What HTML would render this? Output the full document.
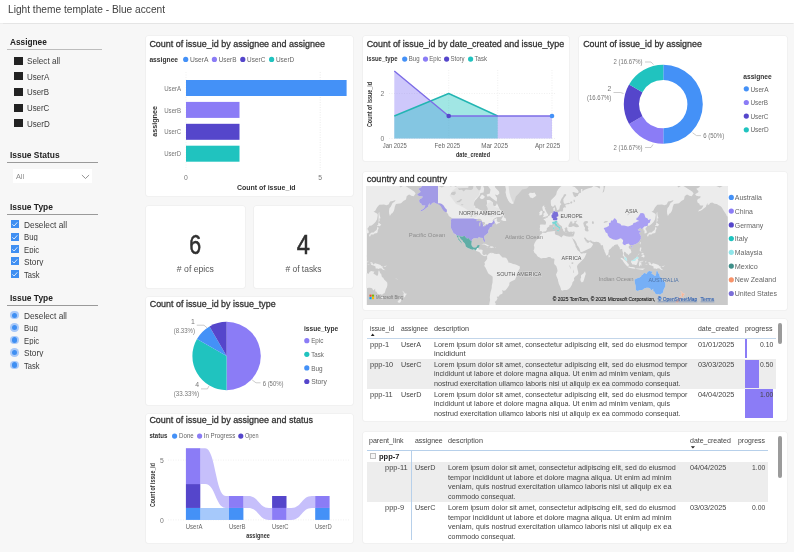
<!DOCTYPE html>
<html><head><meta charset="utf-8"><title>Light theme template - Blue accent</title>
<style>
html,body{margin:0;padding:0}
body{width:794px;height:552px;overflow:hidden;background:#f7f7f7;font-family:"Liberation Sans",sans-serif;position:relative}
.t{position:absolute;white-space:nowrap;transform-origin:0 0;display:block}
.card{position:absolute;background:#fff;border-radius:2px;box-shadow:0 0 0 0.6px #ececec}
.abs{position:absolute}
svg{position:absolute;left:0;top:0;overflow:visible}
svg text{font-family:"Liberation Sans",sans-serif}
#root{position:absolute;left:0;top:0;width:794px;height:552px;will-change:transform}
</style></head><body><div id="root">

<div class="abs" style="left:0;top:0;width:794px;height:23.4px;background:#fff;box-shadow:0 0.5px 1px rgba(0,0,0,0.07)"></div>
<span class="t " style="left:8.00px;top:3.30px;font-size:10.5px;line-height:12.06px;color:#404040;transform:scaleX(0.9676);">Light theme template - Blue accent</span>
<div class="card" id="bar" style="left:146px;top:36px;width:207px;height:160px"></div>
<div class="card" id="area" style="left:363px;top:36px;width:206px;height:125px"></div>
<div class="card" id="donut" style="left:579px;top:36px;width:207.5px;height:125px"></div>
<div class="card" id="map" style="left:363px;top:172px;width:423.5px;height:137.5px"></div>
<div class="card" id="k1" style="left:146px;top:206px;width:98.5px;height:81.5px"></div>
<div class="card" id="k2" style="left:254.3px;top:206px;width:98.5px;height:81.5px"></div>
<div class="card" id="pie" style="left:146px;top:297px;width:207px;height:107.5px"></div>
<div class="card" id="rib" style="left:146px;top:413.5px;width:207px;height:129px"></div>
<div class="card" id="t1" style="left:363px;top:319px;width:423.5px;height:102px"></div>
<div class="card" id="t2" style="left:363px;top:432px;width:423.5px;height:111px"></div>
<span class="t " style="left:10.00px;top:36.58px;font-size:9.3px;line-height:10.69px;color:#222;font-weight:bold;transform:scaleX(0.8899);">Assignee</span>
<div class="abs" style="left:7.2px;top:48.8px;width:95.0px;height:1px;background:#bdbdbd"></div>
<div class="abs" style="left:14.4px;top:56.5px;width:8.2px;height:8.2px;background:#222"></div>
<span class="t " style="left:27.30px;top:55.97px;font-size:9.2px;line-height:10.57px;color:#3a3a3a;transform:scaleX(0.8893);">Select all</span>
<div class="abs" style="left:14.4px;top:72.2px;width:8.2px;height:8.2px;background:#222"></div>
<span class="t " style="left:27.30px;top:71.67px;font-size:9.2px;line-height:10.57px;color:#3a3a3a;transform:scaleX(0.8724);">UserA</span>
<div class="abs" style="left:14.4px;top:87.9px;width:8.2px;height:8.2px;background:#222"></div>
<span class="t " style="left:27.30px;top:87.37px;font-size:9.2px;line-height:10.57px;color:#3a3a3a;transform:scaleX(0.8607);">UserB</span>
<div class="abs" style="left:14.4px;top:103.6px;width:8.2px;height:8.2px;background:#222"></div>
<span class="t " style="left:27.30px;top:103.07px;font-size:9.2px;line-height:10.57px;color:#3a3a3a;transform:scaleX(0.8554);">UserC</span>
<div class="abs" style="left:14.4px;top:119.3px;width:8.2px;height:8.2px;background:#222"></div>
<span class="t " style="left:27.30px;top:118.77px;font-size:9.2px;line-height:10.57px;color:#3a3a3a;transform:scaleX(0.8746);">UserD</span>
<span class="t " style="left:9.70px;top:149.60px;font-size:9.5px;line-height:10.92px;color:#222;font-weight:bold;transform:scaleX(0.8862);">Issue Status</span>
<div class="abs" style="left:7px;top:161.9px;width:91px;height:1px;background:#9a9a9a"></div>
<div class="abs" style="left:12.7px;top:169.3px;width:79.8px;height:13.8px;background:#fff"></div>
<span class="t " style="left:15.70px;top:173.00px;font-size:7.4px;line-height:8.50px;color:#8a8a8a;transform:scaleX(0.9849);">All</span>
<svg width="794" height="552"><path d="M81.9 175 L85.5 178.5 L89.1 175" fill="none" stroke="#777" stroke-width="0.8"/></svg>
<span class="t " style="left:9.70px;top:202.00px;font-size:9.5px;line-height:10.92px;color:#222;font-weight:bold;transform:scaleX(0.8863);">Issue Type</span>
<div class="abs" style="left:7.2px;top:214.0px;width:90.39999999999999px;height:1px;background:#9a9a9a"></div>
<div class="abs" style="left:0;top:219.20px;width:110px;height:9.2px;overflow:hidden">
<div class="abs" style="left:10.6px;top:1px;width:8.2px;height:8.1px;background:#3f8ff2"></div>
<svg width="110" height="12"><path d="M12.4 5.3 L14.1 7 L17.3 3.3" fill="none" stroke="#fff" stroke-width="0.8"/></svg>
<span class="t " style="left:23.80px;top:0.78px;font-size:9.3px;line-height:10.69px;color:#3a3a3a;transform:scaleX(0.8945);">Deselect all</span>
</div>
<div class="abs" style="left:0;top:231.50px;width:110px;height:9.2px;overflow:hidden">
<div class="abs" style="left:10.6px;top:1px;width:8.2px;height:8.1px;background:#3f8ff2"></div>
<svg width="110" height="12"><path d="M12.4 5.3 L14.1 7 L17.3 3.3" fill="none" stroke="#fff" stroke-width="0.8"/></svg>
<span class="t " style="left:23.80px;top:0.78px;font-size:9.3px;line-height:10.69px;color:#3a3a3a;transform:scaleX(0.8339);">Bug</span>
</div>
<div class="abs" style="left:0;top:244.10px;width:110px;height:9.2px;overflow:hidden">
<div class="abs" style="left:10.6px;top:1px;width:8.2px;height:8.1px;background:#3f8ff2"></div>
<svg width="110" height="12"><path d="M12.4 5.3 L14.1 7 L17.3 3.3" fill="none" stroke="#fff" stroke-width="0.8"/></svg>
<span class="t " style="left:23.80px;top:0.78px;font-size:9.3px;line-height:10.69px;color:#3a3a3a;transform:scaleX(0.8291);">Epic</span>
</div>
<div class="abs" style="left:0;top:256.40px;width:110px;height:9.2px;overflow:hidden">
<div class="abs" style="left:10.6px;top:1px;width:8.2px;height:8.1px;background:#3f8ff2"></div>
<svg width="110" height="12"><path d="M12.4 5.3 L14.1 7 L17.3 3.3" fill="none" stroke="#fff" stroke-width="0.8"/></svg>
<span class="t " style="left:23.80px;top:0.78px;font-size:9.3px;line-height:10.69px;color:#3a3a3a;transform:scaleX(0.8891);">Story</span>
</div>
<div class="abs" style="left:0;top:268.90px;width:110px;height:9.2px;overflow:hidden">
<div class="abs" style="left:10.6px;top:1px;width:8.2px;height:8.1px;background:#3f8ff2"></div>
<svg width="110" height="12"><path d="M12.4 5.3 L14.1 7 L17.3 3.3" fill="none" stroke="#fff" stroke-width="0.8"/></svg>
<span class="t " style="left:23.80px;top:0.78px;font-size:9.3px;line-height:10.69px;color:#3a3a3a;transform:scaleX(0.8106);">Task</span>
</div>
<span class="t " style="left:9.70px;top:293.00px;font-size:9.5px;line-height:10.92px;color:#222;font-weight:bold;transform:scaleX(0.8863);">Issue Type</span>
<div class="abs" style="left:7.2px;top:305.0px;width:90.39999999999999px;height:1px;background:#9a9a9a"></div>
<div class="abs" style="left:0;top:309.40px;width:110px;height:10.6px;overflow:hidden">
<div class="abs" style="left:10.2px;top:1.5px;width:8.6px;height:8.6px;border-radius:50%;background:#a9c9f9"></div>
<div class="abs" style="left:11.9px;top:3.2px;width:5.2px;height:5.2px;border-radius:50%;background:#3f8ff2"></div>
<span class="t " style="left:23.50px;top:1.37px;font-size:9.2px;line-height:10.57px;color:#3a3a3a;transform:scaleX(0.9042);">Deselect all</span>
</div>
<div class="abs" style="left:0;top:321.85px;width:110px;height:10.6px;overflow:hidden">
<div class="abs" style="left:10.2px;top:1.5px;width:8.6px;height:8.6px;border-radius:50%;background:#a9c9f9"></div>
<div class="abs" style="left:11.9px;top:3.2px;width:5.2px;height:5.2px;border-radius:50%;background:#3f8ff2"></div>
<span class="t " style="left:23.50px;top:1.37px;font-size:9.2px;line-height:10.57px;color:#3a3a3a;transform:scaleX(0.8430);">Bug</span>
</div>
<div class="abs" style="left:0;top:334.30px;width:110px;height:10.6px;overflow:hidden">
<div class="abs" style="left:10.2px;top:1.5px;width:8.6px;height:8.6px;border-radius:50%;background:#a9c9f9"></div>
<div class="abs" style="left:11.9px;top:3.2px;width:5.2px;height:5.2px;border-radius:50%;background:#3f8ff2"></div>
<span class="t " style="left:23.50px;top:1.37px;font-size:9.2px;line-height:10.57px;color:#3a3a3a;transform:scaleX(0.8381);">Epic</span>
</div>
<div class="abs" style="left:0;top:346.75px;width:110px;height:10.6px;overflow:hidden">
<div class="abs" style="left:10.2px;top:1.5px;width:8.6px;height:8.6px;border-radius:50%;background:#a9c9f9"></div>
<div class="abs" style="left:11.9px;top:3.2px;width:5.2px;height:5.2px;border-radius:50%;background:#3f8ff2"></div>
<span class="t " style="left:23.50px;top:1.37px;font-size:9.2px;line-height:10.57px;color:#3a3a3a;transform:scaleX(0.8988);">Story</span>
</div>
<div class="abs" style="left:0;top:359.20px;width:110px;height:10.6px;overflow:hidden">
<div class="abs" style="left:10.2px;top:1.5px;width:8.6px;height:8.6px;border-radius:50%;background:#a9c9f9"></div>
<div class="abs" style="left:11.9px;top:3.2px;width:5.2px;height:5.2px;border-radius:50%;background:#3f8ff2"></div>
<span class="t " style="left:23.50px;top:1.37px;font-size:9.2px;line-height:10.57px;color:#3a3a3a;transform:scaleX(0.8194);">Task</span>
</div>
<svg width="794" height="552" viewBox="0 0 794 552"><text x="149.40" y="46.60" font-size="9.2" fill="#333" text-anchor="start" textLength="175.60" lengthAdjust="spacingAndGlyphs" stroke="#333" stroke-width="0.3">Count of issue_id by assignee and assignee</text>
<text x="149.40" y="61.60" font-size="7.6" fill="#333" text-anchor="start" textLength="28.70" lengthAdjust="spacingAndGlyphs" font-weight="bold">assignee</text>
<circle cx="185.7" cy="59.4" r="2.6" fill="#4491f7"/>
<text x="189.90" y="61.70" font-size="7.4" fill="#666" text-anchor="start" textLength="18.70" lengthAdjust="spacingAndGlyphs">UserA</text>
<circle cx="214.4" cy="59.4" r="2.6" fill="#8b7cf6"/>
<text x="218.70" y="61.70" font-size="7.4" fill="#666" text-anchor="start" textLength="17.80" lengthAdjust="spacingAndGlyphs">UserB</text>
<circle cx="242.8" cy="59.4" r="2.6" fill="#5546cb"/>
<text x="247.10" y="61.70" font-size="7.4" fill="#666" text-anchor="start" textLength="18.20" lengthAdjust="spacingAndGlyphs">UserC</text>
<circle cx="271.6" cy="59.4" r="2.6" fill="#20c3bf"/>
<text x="275.90" y="61.70" font-size="7.4" fill="#666" text-anchor="start" textLength="18.40" lengthAdjust="spacingAndGlyphs">UserD</text>
<path d="M320.2 72V170" stroke="#e3e3e3" stroke-width="0.7" stroke-dasharray="1 1.5"/>
<path d="M186 72V170" stroke="#ececec" stroke-width="0.7" stroke-dasharray="1 1.5"/>
<rect x="186" y="80.0" width="160.6" height="16" fill="#4491f7"/>
<text x="181.20" y="90.60" font-size="6.8" fill="#777" text-anchor="end" textLength="17.00" lengthAdjust="spacingAndGlyphs">UserA</text>
<rect x="186" y="101.9" width="53.5" height="16" fill="#8b7cf6"/>
<text x="181.20" y="112.50" font-size="6.8" fill="#777" text-anchor="end" textLength="17.00" lengthAdjust="spacingAndGlyphs">UserB</text>
<rect x="186" y="123.8" width="53.5" height="16" fill="#5546cb"/>
<text x="181.20" y="134.40" font-size="6.8" fill="#777" text-anchor="end" textLength="17.00" lengthAdjust="spacingAndGlyphs">UserC</text>
<rect x="186" y="145.7" width="53.5" height="16" fill="#20c3bf"/>
<text x="181.20" y="156.30" font-size="6.8" fill="#777" text-anchor="end" textLength="17.00" lengthAdjust="spacingAndGlyphs">UserD</text>
<text x="186.00" y="180.20" font-size="6.8" fill="#777" text-anchor="middle">0</text>
<text x="320.20" y="180.20" font-size="6.8" fill="#777" text-anchor="middle">5</text>
<text x="266.30" y="190.00" font-size="7.6" fill="#333" text-anchor="middle" textLength="58.60" lengthAdjust="spacingAndGlyphs" font-weight="bold">Count of issue_id</text>
<g transform="translate(157,121.4) rotate(-90)"><text x="0.00" y="0.00" font-size="7.6" fill="#333" text-anchor="middle" textLength="30.70" lengthAdjust="spacingAndGlyphs" font-weight="bold">assignee</text></g>
<text x="366.70" y="46.60" font-size="9.2" fill="#333" text-anchor="start" textLength="197.50" lengthAdjust="spacingAndGlyphs" stroke="#333" stroke-width="0.3">Count of issue_id by date_created and issue_type</text>
<text x="366.70" y="60.80" font-size="7.4" fill="#333" text-anchor="start" textLength="30.80" lengthAdjust="spacingAndGlyphs" font-weight="bold">issue_type</text>
<circle cx="404.7" cy="59.1" r="2.6" fill="#4491f7"/>
<text x="408.80" y="61.20" font-size="7.2" fill="#666" text-anchor="start" textLength="10.80" lengthAdjust="spacingAndGlyphs">Bug</text>
<circle cx="425.5" cy="59.1" r="2.6" fill="#8b7cf6"/>
<text x="429.30" y="61.20" font-size="7.2" fill="#666" text-anchor="start" textLength="11.80" lengthAdjust="spacingAndGlyphs">Epic</text>
<circle cx="446.6" cy="59.1" r="2.6" fill="#5546cb"/>
<text x="450.50" y="61.20" font-size="7.2" fill="#666" text-anchor="start" textLength="14.10" lengthAdjust="spacingAndGlyphs">Story</text>
<circle cx="470.6" cy="59.1" r="2.6" fill="#20c3bf"/>
<text x="474.60" y="61.20" font-size="7.2" fill="#666" text-anchor="start" textLength="12.40" lengthAdjust="spacingAndGlyphs">Task</text>
<path d="M448.7 70V138.5" stroke="#e9e9e9" stroke-width="0.7" stroke-dasharray="1 1.5"/>
<path d="M497.7 70V138.5" stroke="#e9e9e9" stroke-width="0.7" stroke-dasharray="1 1.5"/>
<path d="M552 70V138.5" stroke="#e9e9e9" stroke-width="0.7" stroke-dasharray="1 1.5"/>
<path d="M389 138.5H555" stroke="#e9e9e9" stroke-width="0.7" stroke-dasharray="1 1.5"/>
<path d="M389 93.5H555" stroke="#e9e9e9" stroke-width="0.7" stroke-dasharray="1 1.5"/>
<path d="M394.3 71.0 L448.7 116.0 L552 116.0 L552 138.5 L394.3 138.5Z" fill="#8b7cf6" fill-opacity="0.42"/>
<path d="M394.3 116.0 L448.7 93.5 L497.7 116.0 L497.7 138.5 L394.3 138.5Z" fill="#20c3bf" fill-opacity="0.42"/>
<path d="M394.3 116.0 L448.7 93.5 L497.7 116.0" fill="none" stroke="#22b5b2" stroke-width="1.4" stroke-linejoin="round"/>
<path d="M394.3 71.0 L448.7 116.0 L552 116.0" fill="none" stroke="#7c6ce6" stroke-width="1.4" stroke-linejoin="round"/>
<circle cx="448.7" cy="116.0" r="2.3" fill="#5546cb"/>
<circle cx="552" cy="116.0" r="2.3" fill="#4491f7"/>
<text x="384.30" y="140.70" font-size="6.8" fill="#777" text-anchor="end">0</text>
<text x="384.30" y="95.80" font-size="6.8" fill="#777" text-anchor="end">2</text>
<text x="394.80" y="148.00" font-size="7.3" fill="#666" text-anchor="middle" textLength="24.20" lengthAdjust="spacingAndGlyphs">Jan 2025</text>
<text x="447.40" y="148.00" font-size="7.3" fill="#666" text-anchor="middle" textLength="25.60" lengthAdjust="spacingAndGlyphs">Feb 2025</text>
<text x="494.60" y="148.00" font-size="7.3" fill="#666" text-anchor="middle" textLength="26.60" lengthAdjust="spacingAndGlyphs">Mar 2025</text>
<text x="547.60" y="148.00" font-size="7.3" fill="#666" text-anchor="middle" textLength="25.40" lengthAdjust="spacingAndGlyphs">Apr 2025</text>
<text x="473.00" y="156.50" font-size="6.6" fill="#333" text-anchor="middle" textLength="34.00" lengthAdjust="spacingAndGlyphs" font-weight="bold">date_created</text>
<g transform="translate(371.5,104.5) rotate(-90)"><text x="0.00" y="0.00" font-size="6.4" fill="#333" text-anchor="middle" textLength="45.00" lengthAdjust="spacingAndGlyphs" font-weight="bold">Count of issue_id</text></g>
<text x="583.20" y="46.50" font-size="9.2" fill="#333" text-anchor="start" textLength="118.70" lengthAdjust="spacingAndGlyphs" stroke="#333" stroke-width="0.3">Count of issue_id by assignee</text>
<path d="M663.30 64.70A39.5 39.5 0 0 1 663.30 143.70L663.30 128.30A24.1 24.1 0 0 0 663.30 80.10Z" fill="#4491f7"/>
<path d="M663.30 143.70A39.5 39.5 0 0 1 629.09 123.95L642.43 116.25A24.1 24.1 0 0 0 663.30 128.30Z" fill="#8b7cf6"/>
<path d="M629.09 123.95A39.5 39.5 0 0 1 629.09 84.45L642.43 92.15A24.1 24.1 0 0 0 642.43 116.25Z" fill="#5546cb"/>
<path d="M629.09 84.45A39.5 39.5 0 0 1 663.30 64.70L663.30 80.10A24.1 24.1 0 0 0 642.43 92.15Z" fill="#20c3bf"/>
<text x="613.50" y="64.40" font-size="6.9" fill="#777" text-anchor="start" textLength="29.10" lengthAdjust="spacingAndGlyphs">2 (16.67%)</text>
<path d="M645 62H651L653.5 64.6" fill="none" stroke="#aaa" stroke-width="0.6"/>
<text x="611.30" y="90.90" font-size="6.9" fill="#777" text-anchor="end">2</text>
<text x="587.00" y="99.60" font-size="6.9" fill="#777" text-anchor="start" textLength="24.30" lengthAdjust="spacingAndGlyphs">(16.67%)</text>
<path d="M613.5 92.5H620.5L623.5 93.5" fill="none" stroke="#aaa" stroke-width="0.6"/>
<text x="613.50" y="149.80" font-size="6.9" fill="#777" text-anchor="start" textLength="29.10" lengthAdjust="spacingAndGlyphs">2 (16.67%)</text>
<path d="M645 147.5H651L653 144.5" fill="none" stroke="#aaa" stroke-width="0.6"/>
<text x="703.20" y="138.30" font-size="6.9" fill="#777" text-anchor="start" textLength="21.00" lengthAdjust="spacingAndGlyphs">6 (50%)</text>
<path d="M692.5 132.7L696.5 135.6H701" fill="none" stroke="#aaa" stroke-width="0.6"/>
<text x="743.30" y="79.00" font-size="7.6" fill="#333" text-anchor="start" textLength="28.40" lengthAdjust="spacingAndGlyphs" font-weight="bold">assignee</text>
<circle cx="746.3" cy="88.8" r="2.6" fill="#4491f7"/>
<text x="750.40" y="91.50" font-size="7.4" fill="#666" text-anchor="start" textLength="18.20" lengthAdjust="spacingAndGlyphs">UserA</text>
<circle cx="746.3" cy="102.5" r="2.6" fill="#8b7cf6"/>
<text x="750.40" y="105.15" font-size="7.4" fill="#666" text-anchor="start" textLength="17.60" lengthAdjust="spacingAndGlyphs">UserB</text>
<circle cx="746.3" cy="116.1" r="2.6" fill="#5546cb"/>
<text x="750.40" y="118.80" font-size="7.4" fill="#666" text-anchor="start" textLength="18.00" lengthAdjust="spacingAndGlyphs">UserC</text>
<circle cx="746.3" cy="129.8" r="2.6" fill="#20c3bf"/>
<text x="750.40" y="132.45" font-size="7.4" fill="#666" text-anchor="start" textLength="18.40" lengthAdjust="spacingAndGlyphs">UserD</text>
<text x="195.20" y="254.00" font-size="28.4" fill="#303030" text-anchor="middle" textLength="11.90" lengthAdjust="spacingAndGlyphs" stroke="#303030" stroke-width="0.55">6</text>
<text x="303.40" y="254.00" font-size="28.4" fill="#303030" text-anchor="middle" textLength="13.20" lengthAdjust="spacingAndGlyphs" stroke="#303030" stroke-width="0.55">4</text>
<text x="195.40" y="272.00" font-size="8.6" fill="#555" text-anchor="middle" textLength="37.10" lengthAdjust="spacingAndGlyphs"># of epics</text>
<text x="303.50" y="272.00" font-size="8.6" fill="#555" text-anchor="middle" textLength="36.00" lengthAdjust="spacingAndGlyphs"># of tasks</text>
<text x="149.70" y="306.60" font-size="9.2" fill="#333" text-anchor="start" textLength="126.00" lengthAdjust="spacingAndGlyphs" stroke="#333" stroke-width="0.3">Count of issue_id by issue_type</text>
<path d="M226.6 356L226.60 321.80A34.2 34.2 0 0 1 226.60 390.20Z" fill="#8b7cf6"/>
<path d="M226.6 356L226.60 390.20A34.2 34.2 0 0 1 196.98 338.90Z" fill="#20c3bf"/>
<path d="M226.6 356L196.98 338.90A34.2 34.2 0 0 1 209.50 326.38Z" fill="#4491f7"/>
<path d="M226.6 356L209.50 326.38A34.2 34.2 0 0 1 226.60 321.80Z" fill="#5546cb"/>
<text x="194.90" y="323.80" font-size="6.9" fill="#777" text-anchor="end">1</text>
<text x="173.80" y="333.00" font-size="6.9" fill="#777" text-anchor="start" textLength="21.10" lengthAdjust="spacingAndGlyphs">(8.33%)</text>
<path d="M196.8 325.2H204L207 327.8" fill="none" stroke="#aaa" stroke-width="0.6"/>
<text x="199.00" y="387.00" font-size="6.9" fill="#777" text-anchor="end">4</text>
<text x="173.80" y="396.10" font-size="6.9" fill="#777" text-anchor="start" textLength="25.20" lengthAdjust="spacingAndGlyphs">(33.33%)</text>
<path d="M201 388.9H207.5L209 385.8" fill="none" stroke="#aaa" stroke-width="0.6"/>
<text x="262.70" y="385.70" font-size="6.9" fill="#777" text-anchor="start" textLength="20.80" lengthAdjust="spacingAndGlyphs">6 (50%)</text>
<path d="M252.2 380L256 382.8H260.5" fill="none" stroke="#aaa" stroke-width="0.6"/>
<text x="304.00" y="331.00" font-size="7.6" fill="#333" text-anchor="start" textLength="34.10" lengthAdjust="spacingAndGlyphs" font-weight="bold">issue_type</text>
<circle cx="306.8" cy="340.7" r="2.6" fill="#8b7cf6"/>
<text x="311.20" y="343.30" font-size="7.4" fill="#666" text-anchor="start" textLength="12.20" lengthAdjust="spacingAndGlyphs">Epic</text>
<circle cx="306.8" cy="354.3" r="2.6" fill="#20c3bf"/>
<text x="311.20" y="356.90" font-size="7.4" fill="#666" text-anchor="start" textLength="12.60" lengthAdjust="spacingAndGlyphs">Task</text>
<circle cx="306.8" cy="367.9" r="2.6" fill="#4491f7"/>
<text x="311.20" y="370.50" font-size="7.4" fill="#666" text-anchor="start" textLength="11.40" lengthAdjust="spacingAndGlyphs">Bug</text>
<circle cx="306.8" cy="381.5" r="2.6" fill="#5546cb"/>
<text x="311.20" y="384.10" font-size="7.4" fill="#666" text-anchor="start" textLength="15.80" lengthAdjust="spacingAndGlyphs">Story</text>
<text x="149.40" y="423.40" font-size="9.2" fill="#333" text-anchor="start" textLength="163.50" lengthAdjust="spacingAndGlyphs" stroke="#333" stroke-width="0.3">Count of issue_id by assignee and status</text>
<text x="149.40" y="438.20" font-size="7" fill="#333" text-anchor="start" textLength="18.00" lengthAdjust="spacingAndGlyphs" font-weight="bold">status</text>
<circle cx="174.6" cy="436.1" r="2.6" fill="#4491f7"/>
<text x="179.10" y="438.40" font-size="7.2" fill="#666" text-anchor="start" textLength="14.60" lengthAdjust="spacingAndGlyphs">Done</text>
<circle cx="199.6" cy="436.1" r="2.6" fill="#8b7cf6"/>
<text x="203.70" y="438.40" font-size="7.2" fill="#666" text-anchor="start" textLength="31.60" lengthAdjust="spacingAndGlyphs">In Progress</text>
<circle cx="240.8" cy="436.1" r="2.6" fill="#5546cb"/>
<text x="245.00" y="438.40" font-size="7.2" fill="#666" text-anchor="start" textLength="13.50" lengthAdjust="spacingAndGlyphs">Open</text>
<path d="M168 519.9H349" stroke="#e9e9e9" stroke-width="0.7" stroke-dasharray="1 1.5"/>
<path d="M168 460.1H349" stroke="#e9e9e9" stroke-width="0.7" stroke-dasharray="1 1.5"/>
<path d="M200.3 507.95L205.2 507.95C215.5 507.95 215.5 507.95 225.8 507.95L229.0 507.95L229.0 519.90L225.8 519.90C215.5 519.90 215.5 519.90 205.2 519.90L200.3 519.90Z" fill="#a6c9fb"/>
<path d="M200.3 448.20L205.2 448.20C215.5 448.20 215.5 496.00 225.8 496.00L229.0 496.00L229.0 507.95L225.8 507.95C215.5 507.95 215.5 484.05 205.2 484.05L200.3 484.05Z" fill="#c6bffb"/>
<path d="M243.4 496.00L248.3 496.00C258.6 496.00 258.6 507.95 268.9 507.95L272.1 507.95L272.1 519.90L268.9 519.90C258.6 519.90 258.6 507.95 248.3 507.95L243.4 507.95Z" fill="#c6bffb"/>
<path d="M286.5 507.95L291.4 507.95C301.7 507.95 301.7 496.00 312.0 496.00L315.2 496.00L315.2 507.95L312.0 507.95C301.7 507.95 301.7 519.90 291.4 519.90L286.5 519.90Z" fill="#c6bffb"/>
<rect x="185.9" y="507.95" width="14.4" height="11.95" fill="#4491f7"/>
<rect x="185.9" y="484.05" width="14.4" height="23.90" fill="#5546cb"/>
<rect x="185.9" y="448.20" width="14.4" height="35.85" fill="#8b7cf6"/>
<rect x="229.0" y="507.95" width="14.4" height="11.95" fill="#4491f7"/>
<rect x="229.0" y="496.00" width="14.4" height="11.95" fill="#8b7cf6"/>
<rect x="272.1" y="507.95" width="14.4" height="11.95" fill="#8b7cf6"/>
<rect x="272.1" y="496.00" width="14.4" height="11.95" fill="#5546cb"/>
<rect x="315.2" y="507.95" width="14.4" height="11.95" fill="#4491f7"/>
<rect x="315.2" y="496.00" width="14.4" height="11.95" fill="#8b7cf6"/>
<text x="163.80" y="522.60" font-size="6.8" fill="#777" text-anchor="end">0</text>
<text x="163.80" y="462.75" font-size="6.8" fill="#777" text-anchor="end">5</text>
<text x="194.10" y="528.90" font-size="6.8" fill="#666" text-anchor="middle" textLength="16.60" lengthAdjust="spacingAndGlyphs">UserA</text>
<text x="237.20" y="528.90" font-size="6.8" fill="#666" text-anchor="middle" textLength="16.60" lengthAdjust="spacingAndGlyphs">UserB</text>
<text x="280.30" y="528.90" font-size="6.8" fill="#666" text-anchor="middle" textLength="16.60" lengthAdjust="spacingAndGlyphs">UserC</text>
<text x="323.40" y="528.90" font-size="6.8" fill="#666" text-anchor="middle" textLength="16.60" lengthAdjust="spacingAndGlyphs">UserD</text>
<text x="258.00" y="538.30" font-size="6.6" fill="#333" text-anchor="middle" textLength="23.50" lengthAdjust="spacingAndGlyphs" font-weight="bold">assignee</text>
<g transform="translate(154.6,485) rotate(-90)"><text x="0.00" y="0.00" font-size="6.4" fill="#333" text-anchor="middle" textLength="44.00" lengthAdjust="spacingAndGlyphs" font-weight="bold">Count of issue_id</text></g>
<text x="366.70" y="181.60" font-size="9.2" fill="#333" text-anchor="start" textLength="80.50" lengthAdjust="spacingAndGlyphs" stroke="#333" stroke-width="0.3">country and country</text>
<clipPath id="mc"><rect x="366.8" y="186" width="360.99999999999994" height="119"/></clipPath>
<g clip-path="url(#mc)"><rect x="366.8" y="186" width="360.99999999999994" height="119" fill="#c9c9c9"/>
<path d="M139.1 194.2L142.3 192.3L142.5 191.3L140.3 188.7L143.0 187.4L146.1 183.4L148.0 182.2L151.5 183.4L154.6 184.5L160.0 185.9L163.9 187.6L166.2 186.3L170.1 184.8L172.4 186.6L175.5 185.7L180.1 187.9L180.9 189.9L184.0 189.7L185.5 191.5L187.8 189.5L193.2 189.9L194.8 188.9L196.3 181.7L197.9 186.3L199.0 188.5L200.9 190.5L202.5 189.5L202.9 186.3L205.2 185.9L206.1 188.5L205.6 192.5L202.5 192.9L201.7 195.3L200.2 197.1L198.6 198.9L197.1 200.5L195.9 203.0L195.8 205.6L197.1 205.7L197.5 208.2L199.4 208.2L200.9 209.3L203.3 210.5L205.3 210.8L205.6 213.6L206.0 214.6L206.7 215.7L207.9 215.5L208.0 213.6L207.9 211.6L209.4 210.3L209.8 208.9L209.1 206.7L208.3 205.6L209.1 203.7L208.7 200.0L211.0 200.0L212.5 200.5L214.8 202.2L215.2 205.3L216.4 206.3L217.9 205.6L218.9 203.3L220.6 206.7L221.8 209.6L224.1 211.6L225.7 213.6L225.9 214.8L224.9 215.6L222.6 217.0L219.5 216.9L217.2 218.0L215.2 219.6L214.1 221.0L215.6 219.9L218.7 218.2L219.2 219.1L218.7 219.9L218.9 221.0L219.9 221.9L221.4 222.2L222.6 221.3L221.8 222.7L219.9 223.5L218.2 224.6L217.8 223.7L217.2 223.0L215.6 224.1L214.5 224.8L214.3 226.2L214.8 226.5L213.7 226.8L211.8 227.6L211.6 228.7L210.6 229.7L210.2 231.2L210.4 232.6L209.4 233.6L207.9 234.7L206.3 236.1L206.1 237.7L206.9 239.9L207.0 241.4L206.3 242.0L205.7 241.2L205.0 239.6L205.0 238.6L204.0 237.7L202.9 238.0L201.7 237.3L200.2 237.4L199.9 238.4L198.6 238.3L196.7 238.0L195.5 238.4L194.0 239.6L193.8 241.2L193.5 242.9L193.4 244.3L193.8 245.8L194.8 247.1L195.8 247.6L197.5 247.4L198.6 247.1L199.0 245.6L200.6 245.0L201.7 245.1L201.3 246.6L200.9 247.6L200.4 249.1L200.8 249.6L202.5 249.6L204.0 249.7L204.7 250.3L204.4 252.3L204.3 253.5L205.2 254.8L206.3 255.2L207.4 254.6L208.7 254.8L209.2 255.4L209.1 255.8L208.3 255.6L207.1 256.3L206.0 256.0L204.8 255.6L203.3 254.4L202.6 253.5L201.3 251.9L199.8 251.5L198.2 251.1L197.1 249.9L195.9 249.3L194.4 249.7L192.4 249.0L190.5 248.3L189.0 247.5L187.6 246.2L187.4 244.7L186.7 243.3L185.1 241.8L184.3 240.3L183.2 239.5L182.0 238.1L181.5 236.6L180.3 236.2L180.5 237.7L181.6 239.5L182.8 241.2L183.6 242.6L184.1 243.7L183.6 243.3L182.4 242.1L181.3 240.5L180.1 239.5L180.5 238.8L179.3 237.2L178.5 235.4L177.4 234.1L175.8 233.6L174.8 231.7L174.3 230.4L173.3 228.7L172.9 227.2L172.8 225.2L173.1 221.7L172.6 219.2L173.9 219.3L174.3 218.5L172.8 217.3L170.8 216.1L170.1 214.2L168.5 211.9L167.4 210.3L165.8 207.5L164.3 206.0L162.7 205.3L160.8 204.0L158.5 203.7L156.2 202.5L154.2 203.0L153.1 204.5L151.5 205.3L151.9 203.0L150.4 205.0L150.0 206.7L148.0 208.2L146.5 209.6L144.6 210.7L142.6 211.2L141.9 211.6L143.4 209.8L145.3 208.9L146.9 206.7L147.3 205.6L145.3 205.6L143.8 205.3L143.4 203.7L141.5 202.5L141.1 200.5L141.9 198.9L144.2 198.0L144.6 196.3L142.6 196.3L140.3 195.7ZM218.7 201.4L216.4 200.0L213.7 198.0L211.8 196.3L209.1 196.6L208.7 194.4L211.8 193.5L212.5 189.5L209.4 185.2L213.3 181.7L216.4 184.5L217.2 187.4L221.0 191.5L221.4 193.5L219.5 195.3L216.8 194.4L219.1 198.0L218.7 201.4ZM178.5 187.4L181.6 188.3L185.5 188.1L190.1 187.9L190.9 185.2L187.8 179.2L182.4 177.9L177.8 180.5L178.5 187.4ZM201.7 198.0L204.0 199.2L206.3 198.0L206.7 196.3L204.0 194.4L202.5 196.3ZM223.1 220.0L225.7 221.0L228.0 221.1L228.2 220.1L227.6 218.2L225.8 217.3L226.0 215.3L224.7 216.7L223.7 218.7ZM203.3 244.7L205.2 243.7L207.1 243.7L209.4 244.8L211.6 246.1L209.1 246.3L208.7 245.7L206.3 244.6L204.4 244.4ZM211.4 247.5L212.5 246.3L214.8 246.4L216.1 247.4L214.5 247.7L213.5 248.1L212.1 247.6ZM208.4 247.5L210.0 247.8L209.2 248.0ZM217.0 247.5L218.2 247.6L217.5 247.9ZM250.4 194.4L251.9 192.7L255.0 193.1L256.5 192.5L257.7 194.4L258.4 195.3L257.3 196.6L254.6 198.2L251.9 197.3L251.5 195.7ZM209.2 255.4L210.2 254.6L210.6 253.7L211.8 253.3L213.3 252.5L213.7 253.5L214.8 252.7L216.4 253.8L218.7 254.1L221.0 253.7L221.8 254.6L222.6 255.6L224.5 257.4L227.2 257.5L228.7 258.5L229.5 260.1L230.3 261.6L230.3 262.4L231.8 262.8L234.1 263.4L234.9 263.9L236.9 264.2L238.8 264.9L240.3 265.7L241.7 266.3L241.9 268.2L240.7 270.2L239.6 272.1L238.8 273.7L238.6 276.1L237.6 278.2L237.2 279.4L235.7 280.3L234.1 280.9L232.6 281.7L231.4 282.8L231.3 285.0L229.9 287.2L228.4 289.2L227.2 290.6L225.3 290.7L223.9 289.9L224.7 292.0L224.3 293.8L221.8 294.8L220.8 296.6L218.7 296.8L219.5 298.5L218.5 300.5L216.8 302.1L217.9 304.1L216.4 306.7L215.6 309.2L216.0 310.4L214.8 310.4L211.0 306.7L211.4 303.2L212.1 299.9L211.8 297.3L212.1 294.8L212.4 292.8L212.9 290.9L213.7 288.1L213.8 285.4L214.5 282.8L214.6 280.3L214.7 277.8L214.5 276.4L212.9 275.3L210.6 273.7L209.8 272.5L209.1 270.9L207.9 268.6L207.1 267.0L206.2 265.9L206.7 264.7L207.1 263.9L206.3 262.8L207.1 261.6L207.9 260.8L208.3 260.1L209.2 258.9L209.1 257.4L209.1 256.2ZM264.4 232.4L267.4 232.9L269.7 231.7L272.8 231.4L276.2 230.9L277.4 231.4L276.8 232.6L277.0 234.1L277.8 234.8L280.5 235.6L283.6 237.4L284.3 236.3L285.5 235.2L288.2 236.2L291.3 236.8L293.6 236.5L294.0 237.7L294.8 239.5L295.9 242.1L296.5 243.3L297.5 245.4L297.7 247.1L298.6 248.3L299.4 249.9L300.6 251.1L302.1 252.3L302.3 253.1L303.6 253.8L305.2 253.3L306.7 253.2L308.4 252.8L308.3 253.8L307.1 256.6L306.0 258.5L304.4 260.1L302.5 262.0L300.9 263.4L299.8 264.7L299.0 266.3L299.2 267.8L299.6 269.8L300.2 271.7L300.3 273.7L299.0 275.3L297.3 276.5L295.9 278.2L296.3 280.3L294.4 282.4L294.2 284.1L293.2 285.9L292.1 287.7L290.1 289.5L288.6 289.9L285.9 290.1L284.3 290.7L283.1 290.1L282.8 288.6L282.0 286.3L280.9 284.1L280.1 281.1L279.9 279.4L278.6 276.5L278.0 274.5L279.3 271.7L279.5 270.2L278.6 267.0L278.2 265.9L276.2 263.9L276.1 262.0L276.4 260.5L276.4 259.1L275.5 258.4L274.3 258.6L273.1 258.1L272.4 257.1L270.4 257.1L268.1 258.0L266.6 258.1L265.0 258.1L263.1 258.6L261.6 257.5L260.0 256.7L258.9 255.4L258.5 254.4L257.3 253.5L256.0 252.3L255.9 251.1L255.4 250.5L256.2 249.3L256.4 247.1L255.8 245.4L256.5 243.3L257.7 241.2L258.9 239.6L260.0 239.0L261.2 238.1L261.4 236.8L262.3 234.7L263.6 233.9ZM307.0 271.3L307.8 274.1L307.1 275.7L306.4 278.2L305.4 281.5L303.8 282.4L302.6 281.1L302.4 279.0L303.1 277.4L302.9 275.6L304.0 274.5L305.2 273.7L306.2 272.5ZM261.6 231.2L262.1 229.7L261.6 228.9L262.1 226.7L261.8 224.9L262.7 224.4L265.0 224.6L267.4 224.7L267.9 223.5L268.0 221.9L267.0 220.4L265.3 219.2L266.6 218.7L267.7 218.8L267.5 217.6L269.1 217.9L270.1 216.3L271.6 215.6L272.4 214.2L272.8 213.2L274.3 212.8L275.6 212.4L275.5 210.3L275.2 208.2L277.0 207.2L276.9 208.9L276.6 210.9L277.4 212.0L278.6 211.7L279.7 212.3L281.6 211.6L283.2 211.2L284.2 211.7L285.1 210.3L285.1 208.2L286.3 207.2L287.7 207.7L287.7 206.0L287.0 205.0L289.0 204.3L290.5 204.2L292.1 203.7L290.9 202.8L289.0 203.3L286.7 203.9L285.5 202.2L285.3 199.2L286.7 197.1L288.4 195.0L287.4 193.9L285.9 194.4L285.3 196.3L283.6 198.5L282.3 201.4L282.2 203.0L283.4 204.0L282.0 205.7L281.6 207.7L281.3 209.3L279.9 210.1L278.9 210.4L278.8 208.9L278.0 207.0L277.4 205.3L276.9 204.8L275.9 206.3L274.5 206.7L273.1 205.6L272.8 203.0L272.8 200.5L273.9 199.2L275.5 197.8L277.0 196.3L278.2 194.4L278.9 191.5L280.1 189.5L281.3 187.9L284.3 185.2L288.2 182.9L290.5 182.9L292.8 184.5L294.4 186.3L296.7 187.0L299.8 189.9L300.8 191.9L299.8 193.1L297.5 192.7L295.5 192.1L294.4 192.5L295.5 195.3L295.9 196.6L297.9 197.3L298.2 196.3L299.8 195.9L300.2 194.4L301.7 192.7L302.9 193.1L303.0 188.9L304.4 189.1L304.4 191.5L306.0 190.1L309.8 188.5L313.7 187.6L315.6 185.9L319.1 187.0L321.4 188.5L322.2 187.9L320.6 182.9L321.4 177.9L325.1 178.4L325.3 182.9L325.7 188.5L324.5 192.9L326.0 191.5L326.8 187.4L329.1 180.5L331.1 176.6L336.1 175.2L338.4 170.8L346.1 167.6L349.2 163.4L351.5 165.9L355.4 169.2L356.5 175.2L360.0 176.6L364.7 176.0L367.7 180.5L369.3 182.9L373.1 181.7L377.0 179.2L380.9 179.7L384.7 181.7L388.6 182.9L392.5 185.2L394.8 185.9L398.6 185.2L400.6 187.4L404.0 185.2L407.9 187.4L410.2 188.9L414.1 191.5L415.6 193.5L413.7 196.3L411.4 195.7L409.1 194.4L407.9 195.3L406.7 196.3L406.0 199.5L403.3 200.9L401.0 203.3L397.9 203.7L395.9 204.0L394.8 206.7L394.4 208.9L393.8 210.9L392.5 212.9L391.3 213.8L389.9 216.1L389.1 213.6L389.0 210.9L389.4 208.2L390.9 206.4L392.5 203.0L394.8 201.4L395.5 200.0L392.8 201.0L390.1 201.4L388.6 204.5L386.3 205.3L384.0 204.5L379.3 204.8L377.0 207.5L375.1 210.9L373.5 211.5L375.1 212.5L377.0 213.6L377.8 214.8L377.4 217.3L377.0 219.6L375.5 221.9L373.5 224.1L371.6 225.4L370.1 225.7L369.3 225.7L368.9 226.7L367.7 228.2L367.4 228.9L368.5 230.7L368.9 232.6L367.7 233.3L366.6 233.6L366.4 231.7L366.8 230.7L365.4 230.2L365.6 228.7L364.8 228.2L363.1 229.2L362.7 227.7L360.8 229.0L359.8 229.4L360.4 230.4L361.6 230.8L363.5 231.0L362.3 231.7L361.2 232.9L362.0 234.5L363.0 236.3L362.7 237.5L363.1 238.1L362.3 239.5L361.4 241.2L360.4 242.3L359.2 243.3L357.7 244.0L356.5 244.4L355.0 245.0L353.8 245.2L353.8 246.0L353.5 245.0L352.3 244.9L351.3 245.7L350.5 247.1L351.5 248.7L352.7 249.6L353.3 251.5L353.2 252.8L351.5 253.8L351.1 254.6L350.0 255.3L349.8 254.0L348.4 253.5L347.9 252.5L346.9 252.0L346.5 251.5L346.1 252.3L345.6 253.8L346.0 254.8L346.5 256.3L347.4 256.7L348.4 257.7L348.8 258.9L348.8 259.9L349.4 260.9L348.7 260.8L347.3 259.9L346.5 258.9L346.4 257.5L345.7 256.6L344.8 255.6L345.0 254.2L345.0 252.7L344.3 250.5L344.2 249.1L343.0 248.9L341.9 249.5L341.7 247.5L340.7 246.2L339.9 245.0L339.6 244.2L338.4 244.6L337.2 244.7L336.1 245.2L335.7 246.2L334.5 246.6L332.6 248.7L330.8 249.9L330.8 251.6L330.5 252.8L330.3 254.0L329.9 254.8L329.3 255.1L328.7 255.7L328.0 255.0L327.4 253.1L326.7 251.9L326.3 250.3L325.5 248.7L325.1 246.6L325.0 245.4L324.7 245.0L323.7 245.6L322.2 244.3L323.0 243.9L321.8 243.3L320.9 242.2L318.7 241.8L316.4 241.9L314.1 241.5L312.9 240.3L311.4 240.7L310.2 240.5L308.7 239.6L307.5 237.7L306.6 237.4L306.0 238.0L306.5 239.0L307.5 240.6L307.7 241.6L308.5 241.2L308.7 242.5L309.4 242.7L310.6 242.8L312.1 241.2L312.5 242.5L314.1 243.3L315.1 244.2L314.3 245.8L313.5 247.1L312.5 247.9L311.4 248.5L309.3 249.5L306.7 250.8L304.0 251.9L302.5 252.1L302.0 250.3L301.5 248.7L300.2 246.6L299.2 245.2L298.6 243.3L297.7 241.6L296.3 239.6L295.6 239.3L294.1 237.8L293.8 236.6L295.3 236.5L295.9 235.2L296.5 233.6L296.7 231.7L295.5 231.5L294.4 232.0L292.8 231.4L291.7 231.9L290.5 231.5L290.0 230.9L289.2 229.7L289.6 228.7L289.1 228.2L289.0 227.3L287.6 227.4L287.3 228.2L286.5 227.9L286.7 228.9L287.4 230.2L286.8 230.2L286.8 231.7L286.0 231.5L285.3 230.7L285.1 229.4L284.3 228.4L283.9 226.7L283.6 225.9L282.4 225.2L281.1 224.3L280.4 223.0L279.5 222.3L278.5 222.7L278.4 223.8L279.4 224.6L279.9 225.9L281.3 226.4L281.3 226.8L283.0 227.7L283.2 228.1L282.0 227.7L281.7 228.5L282.1 229.2L281.3 230.2L281.0 230.2L281.3 229.2L280.9 228.2L280.1 227.6L279.3 227.0L278.3 226.4L277.4 225.7L277.0 225.2L276.6 224.1L275.7 223.7L274.7 224.3L273.5 225.0L272.4 224.7L271.4 224.9L271.4 226.2L270.4 226.9L269.3 227.7L268.7 228.7L268.9 229.5L268.4 230.4L267.4 231.4L265.4 231.6L264.7 232.2L264.0 231.4L263.1 231.0ZM264.5 217.2L266.2 216.9L268.1 216.4L269.9 215.8L270.2 213.9L269.1 213.6L268.9 212.7L267.9 210.9L267.4 209.6L266.7 209.0L267.4 207.3L265.8 207.2L266.6 205.8L265.0 205.8L264.3 207.5L264.7 209.6L265.2 210.9L266.4 211.1L266.6 212.9L265.4 213.2L265.7 214.2L264.9 215.1L266.2 215.6L265.4 216.1ZM261.2 215.3L262.7 215.2L264.1 214.5L264.3 212.9L264.7 211.6L263.9 210.7L262.6 210.7L262.3 211.7L261.2 212.3L261.6 213.6ZM369.4 236.5L370.4 236.3L370.8 234.5L372.4 234.5L373.5 234.4L374.5 233.6L376.1 233.3L377.0 232.9L377.6 232.2L377.8 229.9L378.6 228.7L378.2 226.9L377.2 227.2L377.0 228.4L376.6 229.9L374.9 231.3L374.3 231.7L373.8 232.5L371.6 232.6L370.1 233.7L369.3 234.7L369.1 235.4ZM377.0 226.6L377.8 225.7L379.6 226.2L381.3 224.8L380.3 224.1L378.9 222.7L378.3 222.6L378.2 224.8L377.2 225.2ZM378.6 221.9L379.7 221.0L379.3 218.5L380.5 218.2L379.5 214.8L379.3 211.9L378.6 212.9L378.6 217.3L378.6 219.6ZM361.7 243.7L362.3 244.6L363.0 242.2L362.3 241.9ZM352.8 246.9L354.2 247.5L354.6 246.4L353.5 246.1ZM330.5 255.8L330.8 254.5L332.1 256.2L331.4 257.2L330.7 257.4ZM362.0 247.5L363.3 247.5L363.3 249.1L362.7 250.3L363.1 251.1L364.7 251.9L364.7 252.3L363.7 251.4L362.1 251.2L361.6 250.3L361.8 249.2ZM363.1 256.6L364.3 255.4L365.8 254.4L366.6 255.8L366.4 257.0L365.7 257.6L364.7 257.0ZM363.1 253.8L364.3 253.1L365.8 253.3L365.4 254.2L363.9 254.8ZM359.4 255.5L361.2 253.3L361.2 254.0L359.6 255.6ZM353.1 260.8L354.1 260.7L354.8 260.1L356.2 259.5L356.9 258.5L358.1 257.7L359.0 256.6L359.8 257.1L360.9 258.0L360.0 258.7L359.9 259.7L360.6 261.2L359.6 261.6L359.6 262.8L358.9 263.9L358.5 264.9L357.3 265.1L356.2 264.5L355.0 264.5L354.0 264.2L353.8 263.2L353.1 262.4ZM342.5 257.7L344.2 258.0L346.4 259.8L347.3 260.5L348.8 261.8L349.6 263.2L350.8 264.3L350.6 266.5L349.6 266.5L347.9 265.1L346.7 263.5L345.4 261.8L344.6 260.3L343.0 258.9ZM350.1 267.3L351.1 266.6L352.7 267.1L354.4 267.0L355.9 267.3L357.3 268.0L357.2 268.7L354.6 268.4L352.3 268.0L351.0 267.7ZM357.7 268.4L360.8 268.4L363.9 268.4L365.4 268.6L367.0 268.5L364.7 269.9L361.6 269.4L358.5 269.0ZM360.8 264.3L361.4 261.6L362.3 261.0L365.4 260.8L365.0 261.6L362.3 261.8L362.7 262.8L364.1 262.8L363.1 263.5L363.7 265.5L362.7 265.6L362.3 264.3L361.9 266.3L361.2 266.3ZM367.4 261.2L368.3 260.8L368.1 262.4L367.6 262.6ZM367.7 264.3L369.9 264.5L368.9 264.8L367.6 264.7ZM370.1 262.6L371.2 262.3L372.4 262.6L373.1 264.5L375.1 263.2L377.8 264.0L380.5 264.9L381.6 266.3L383.0 266.6L382.4 267.3L383.6 269.0L385.4 270.2L382.8 269.8L381.6 268.4L379.7 268.2L378.9 269.1L377.4 268.4L375.6 268.4L375.5 266.6L373.5 265.5L371.6 265.1L370.8 264.2L372.0 263.8L370.8 263.5ZM383.6 266.3L385.1 266.3L386.5 265.2L386.3 265.9L385.1 266.9L384.0 266.8ZM356.5 279.4L356.9 282.8L357.7 286.3L357.7 289.5L357.9 290.3L359.9 291.0L361.6 289.9L364.3 289.9L366.2 288.4L368.5 287.7L370.1 287.7L372.0 288.3L373.3 290.6L374.3 289.5L375.3 288.7L375.1 289.9L375.5 291.5L376.6 291.8L377.4 293.8L379.7 294.6L380.9 294.1L381.9 294.9L383.2 293.7L384.7 293.0L385.3 290.9L385.9 289.0L386.9 287.2L387.4 285.0L387.2 282.4L385.5 280.8L384.3 279.7L383.2 277.8L381.9 276.9L381.6 275.7L381.1 273.7L380.1 273.2L379.7 271.7L378.9 270.3L378.3 272.1L378.2 274.1L377.6 275.7L376.2 275.6L375.1 274.5L373.5 273.7L373.9 272.5L374.5 271.5L373.1 271.5L371.6 270.9L370.1 271.6L369.3 272.5L368.9 273.7L367.7 273.6L366.8 272.9L365.8 273.3L364.7 274.8L363.3 275.5L363.1 276.5L361.2 277.8L359.1 278.3L357.3 279.2ZM380.6 296.5L382.0 296.9L383.3 296.7L383.3 298.0L382.4 299.4L381.6 299.4L381.0 298.1ZM402.3 290.4L403.7 291.8L404.4 292.5L404.8 293.4L406.6 293.5L406.2 295.0L405.5 295.3L405.4 296.3L404.3 297.4L403.8 297.1L404.0 296.0L403.1 295.1L403.7 294.3L403.8 293.1L402.5 290.9ZM402.3 296.3L403.4 297.3L402.5 298.8L402.3 299.7L401.1 300.5L400.7 302.0L399.8 302.8L398.9 302.8L397.5 302.1L398.2 300.8L399.4 299.7L401.0 298.3L401.9 296.8ZM395.5 277.9L397.9 279.7L397.5 279.8L395.5 278.3ZM278.6 230.2L280.9 230.0L280.6 231.5L278.6 230.6ZM275.2 229.2L275.3 227.2L276.3 227.2L276.4 229.0L275.5 229.3ZM275.5 226.8L276.2 226.7L276.2 225.3L275.6 225.7ZM287.0 232.8L289.2 232.9L287.8 232.5ZM293.8 233.3L295.5 232.5L294.8 233.4Z" fill="#ececec"/>
<path d="M290.5 226.7L291.4 227.0L293.2 227.0L294.8 226.2L295.9 226.2L297.1 226.9L298.6 227.2L300.6 227.0L301.0 226.2L299.8 224.6L298.2 223.5L297.5 222.8L298.5 221.7L299.2 220.6L297.9 221.1L296.2 221.6L295.9 222.2L297.1 222.7L296.2 223.1L294.8 223.7L294.0 222.6L294.8 221.9L293.6 221.6L292.7 221.3L291.8 222.7L291.1 224.1L290.4 225.4ZM305.2 223.0L306.7 221.3L308.7 221.0L309.8 221.3L309.8 223.0L308.3 223.5L307.9 225.2L309.4 225.7L310.4 227.2L309.8 228.7L310.6 230.2L310.4 231.2L309.1 231.5L307.5 230.9L306.7 229.7L307.1 227.7L306.0 226.2L305.6 224.6ZM314.1 221.3L315.6 221.6L316.0 223.5L314.5 224.1L313.9 223.0ZM349.1 215.5L350.4 214.8L352.7 212.5L353.7 210.1L353.1 210.0L351.5 212.8L350.0 214.1ZM197.9 221.1L199.8 219.6L200.9 218.7L203.3 219.8L203.6 221.3L201.7 221.3L200.6 220.8L199.0 221.2ZM201.1 226.2L202.3 226.2L202.5 223.5L203.3 222.1L201.7 222.2L200.9 223.5ZM203.6 221.9L206.0 221.9L207.1 223.2L205.8 224.9L205.2 224.9L204.4 224.1L204.6 222.8ZM204.6 226.4L206.3 226.6L207.9 225.4L206.7 225.5L205.2 225.9ZM207.3 224.8L209.4 224.8L210.1 224.1L209.1 224.0L207.7 224.3ZM192.4 216.7L194.4 216.8L194.1 214.8L193.2 212.5L192.2 212.9L192.8 214.8ZM178.5 202.2L181.6 202.2L184.3 199.4L182.8 199.0L180.9 200.5L178.9 201.2ZM172.8 194.4L176.2 195.3L177.8 193.5L177.4 191.5L174.7 191.9L173.1 193.1ZM182.8 205.0L184.7 205.3L185.5 204.5L183.6 204.3ZM292.8 203.7L294.0 203.3L294.4 202.0L293.2 201.2L292.1 202.2ZM295.9 202.2L296.9 201.8L296.7 199.7L295.5 199.7ZM293.6 262.4L295.2 262.2L295.2 263.8L294.0 264.1L293.4 263.2ZM291.5 264.7L292.1 265.9L292.8 268.6L292.3 268.6L291.5 266.3ZM295.2 269.5L295.9 270.9L296.1 272.9L295.5 273.1L295.3 270.9ZM325.7 221.9L327.6 221.0L329.9 221.3L329.5 222.1L326.8 222.8L326.0 223.0Z" fill="#c9c9c9"/>
<path d="M234.1 204.0L235.7 203.7L236.5 200.5L238.0 196.3L240.3 194.1L244.2 189.5L248.8 188.5L251.9 185.2L253.5 175.2L226.4 175.2L227.2 185.2L228.0 189.5L227.6 192.5L228.7 197.1L230.3 200.5L231.8 202.5Z" fill="#dadada"/><path d="M226.4 175.2L230.7 175.2L230.7 187.4L231.4 192.5L232.6 197.1L234.1 200.5L235.5 203.3L234.1 204.0L231.8 202.5L230.3 200.5L228.7 197.1L227.6 192.5L228.0 189.5L227.2 185.2Z" fill="#ececec"/>
<path d="M174.7 190.5L171.6 195.3L177.8 203.7L185.5 207.5L190.9 210.9L194.0 214.8L197.1 217.3L200.9 214.8L197.1 208.9L195.5 203.7L197.1 198.9L200.9 195.3L203.3 185.7L195.5 185.2L187.8 186.3L180.1 186.3Z" fill="#c9c9c9" fill-opacity="0.28"/><path d="M208.7 214.8L207.9 209.6L209.4 203.7L213.3 201.4L216.4 206.7L221.0 208.2L222.6 213.6L217.9 216.1L213.3 217.3Z" fill="#c9c9c9" fill-opacity="0.2"/>
<path d="M417.1 194.2L420.3 192.3L420.5 191.3L418.3 188.7L421.0 187.4L424.1 183.4L426.0 182.2L429.5 183.4L432.6 184.5L438.0 185.9L441.9 187.6L444.2 186.3L448.1 184.8L450.4 186.6L453.5 185.7L458.1 187.9L458.9 189.9L462.0 189.7L463.5 191.5L465.8 189.5L471.2 189.9L472.8 188.9L474.3 181.7L475.9 186.3L477.0 188.5L478.9 190.5L480.5 189.5L480.9 186.3L483.2 185.9L484.1 188.5L483.6 192.5L480.5 192.9L479.7 195.3L478.2 197.1L476.6 198.9L475.1 200.5L473.9 203.0L473.8 205.6L475.1 205.7L475.5 208.2L477.4 208.2L478.9 209.3L481.3 210.5L483.3 210.8L483.6 213.6L484.0 214.6L484.7 215.7L485.9 215.5L486.0 213.6L485.9 211.6L487.4 210.3L487.8 208.9L487.1 206.7L486.3 205.6L487.1 203.7L486.7 200.0L489.0 200.0L490.5 200.5L492.8 202.2L493.2 205.3L494.4 206.3L495.9 205.6L496.9 203.3L498.6 206.7L499.8 209.6L502.1 211.6L503.7 213.6L503.9 214.8L502.9 215.6L500.6 217.0L497.5 216.9L495.2 218.0L493.2 219.6L492.1 221.0L493.6 219.9L496.7 218.2L497.2 219.1L496.7 219.9L496.9 221.0L497.9 221.9L499.4 222.2L500.6 221.3L499.8 222.7L497.9 223.5L496.2 224.6L495.8 223.7L495.2 223.0L493.6 224.1L492.5 224.8L492.3 226.2L492.8 226.5L491.7 226.8L489.8 227.6L489.6 228.7L488.6 229.7L488.2 231.2L488.4 232.6L487.4 233.6L485.9 234.7L484.3 236.1L484.1 237.7L484.9 239.9L485.0 241.4L484.3 242.0L483.7 241.2L483.0 239.6L483.0 238.6L482.0 237.7L480.9 238.0L479.7 237.3L478.2 237.4L477.9 238.4L476.6 238.3L474.7 238.0L473.5 238.4L472.0 239.6L471.8 241.2L471.5 242.9L471.4 244.3L471.8 245.8L472.8 247.1L473.8 247.6L475.5 247.4L476.6 247.1L477.0 245.6L478.6 245.0L479.7 245.1L479.3 246.6L478.9 247.6L478.4 249.1L478.8 249.6L480.5 249.6L482.0 249.7L482.7 250.3L482.4 252.3L482.3 253.5L483.2 254.8L484.3 255.2L485.4 254.6L486.7 254.8L487.2 255.4L487.1 255.8L486.3 255.6L485.1 256.3L484.0 256.0L482.8 255.6L481.3 254.4L480.6 253.5L479.3 251.9L477.8 251.5L476.2 251.1L475.1 249.9L473.9 249.3L472.4 249.7L470.4 249.0L468.5 248.3L467.0 247.5L465.6 246.2L465.4 244.7L464.7 243.3L463.1 241.8L462.3 240.3L461.2 239.5L460.0 238.1L459.5 236.6L458.3 236.2L458.5 237.7L459.6 239.5L460.8 241.2L461.6 242.6L462.1 243.7L461.6 243.3L460.4 242.1L459.3 240.5L458.1 239.5L458.5 238.8L457.3 237.2L456.5 235.4L455.4 234.1L453.8 233.6L452.8 231.7L452.3 230.4L451.3 228.7L450.9 227.2L450.8 225.2L451.1 221.7L450.6 219.2L451.9 219.3L452.3 218.5L450.8 217.3L448.8 216.1L448.1 214.2L446.5 211.9L445.4 210.3L443.8 207.5L442.3 206.0L440.7 205.3L438.8 204.0L436.5 203.7L434.2 202.5L432.2 203.0L431.1 204.5L429.5 205.3L429.9 203.0L428.4 205.0L428.0 206.7L426.0 208.2L424.5 209.6L422.6 210.7L420.6 211.2L419.9 211.6L421.4 209.8L423.3 208.9L424.9 206.7L425.3 205.6L423.3 205.6L421.8 205.3L421.4 203.7L419.5 202.5L419.1 200.5L419.9 198.9L422.2 198.0L422.6 196.3L420.6 196.3L418.3 195.7ZM496.7 201.4L494.4 200.0L491.7 198.0L489.8 196.3L487.1 196.6L486.7 194.4L489.8 193.5L490.5 189.5L487.4 185.2L491.3 181.7L494.4 184.5L495.2 187.4L499.0 191.5L499.4 193.5L497.5 195.3L494.8 194.4L497.1 198.0L496.7 201.4ZM456.5 187.4L459.6 188.3L463.5 188.1L468.1 187.9L468.9 185.2L465.8 179.2L460.4 177.9L455.8 180.5L456.5 187.4ZM479.7 198.0L482.0 199.2L484.3 198.0L484.7 196.3L482.0 194.4L480.5 196.3ZM501.1 220.0L503.7 221.0L506.0 221.1L506.2 220.1L505.6 218.2L503.8 217.3L504.0 215.3L502.7 216.7L501.7 218.7ZM481.3 244.7L483.2 243.7L485.1 243.7L487.4 244.8L489.6 246.1L487.1 246.3L486.7 245.7L484.3 244.6L482.4 244.4ZM489.4 247.5L490.5 246.3L492.8 246.4L494.1 247.4L492.5 247.7L491.5 248.1L490.1 247.6ZM486.4 247.5L488.0 247.8L487.2 248.0ZM495.0 247.5L496.2 247.6L495.5 247.9ZM528.4 194.4L529.9 192.7L533.0 193.1L534.5 192.5L535.7 194.4L536.4 195.3L535.3 196.6L532.6 198.2L529.9 197.3L529.5 195.7ZM487.2 255.4L488.2 254.6L488.6 253.7L489.8 253.3L491.3 252.5L491.7 253.5L492.8 252.7L494.4 253.8L496.7 254.1L499.0 253.7L499.8 254.6L500.6 255.6L502.5 257.4L505.2 257.5L506.7 258.5L507.5 260.1L508.3 261.6L508.3 262.4L509.8 262.8L512.1 263.4L512.9 263.9L514.9 264.2L516.8 264.9L518.3 265.7L519.7 266.3L519.9 268.2L518.7 270.2L517.6 272.1L516.8 273.7L516.6 276.1L515.6 278.2L515.2 279.4L513.7 280.3L512.1 280.9L510.6 281.7L509.4 282.8L509.3 285.0L507.9 287.2L506.4 289.2L505.2 290.6L503.3 290.7L501.9 289.9L502.7 292.0L502.3 293.8L499.8 294.8L498.8 296.6L496.7 296.8L497.5 298.5L496.5 300.5L494.8 302.1L495.9 304.1L494.4 306.7L493.6 309.2L494.0 310.4L492.8 310.4L489.0 306.7L489.4 303.2L490.1 299.9L489.8 297.3L490.1 294.8L490.4 292.8L490.9 290.9L491.7 288.1L491.8 285.4L492.5 282.8L492.6 280.3L492.7 277.8L492.5 276.4L490.9 275.3L488.6 273.7L487.8 272.5L487.1 270.9L485.9 268.6L485.1 267.0L484.2 265.9L484.7 264.7L485.1 263.9L484.3 262.8L485.1 261.6L485.9 260.8L486.3 260.1L487.2 258.9L487.1 257.4L487.1 256.2ZM542.4 232.4L545.4 232.9L547.7 231.7L550.8 231.4L554.2 230.9L555.4 231.4L554.8 232.6L555.0 234.1L555.8 234.8L558.5 235.6L561.6 237.4L562.3 236.3L563.5 235.2L566.2 236.2L569.3 236.8L571.6 236.5L572.0 237.7L572.8 239.5L573.9 242.1L574.5 243.3L575.5 245.4L575.7 247.1L576.6 248.3L577.4 249.9L578.6 251.1L580.1 252.3L580.3 253.1L581.6 253.8L583.2 253.3L584.7 253.2L586.4 252.8L586.3 253.8L585.1 256.6L584.0 258.5L582.4 260.1L580.5 262.0L578.9 263.4L577.8 264.7L577.0 266.3L577.2 267.8L577.6 269.8L578.2 271.7L578.3 273.7L577.0 275.3L575.3 276.5L573.9 278.2L574.3 280.3L572.4 282.4L572.2 284.1L571.2 285.9L570.1 287.7L568.1 289.5L566.6 289.9L563.9 290.1L562.3 290.7L561.1 290.1L560.8 288.6L560.0 286.3L558.9 284.1L558.1 281.1L557.9 279.4L556.6 276.5L556.0 274.5L557.3 271.7L557.5 270.2L556.6 267.0L556.2 265.9L554.2 263.9L554.1 262.0L554.4 260.5L554.4 259.1L553.5 258.4L552.3 258.6L551.1 258.1L550.4 257.1L548.4 257.1L546.1 258.0L544.6 258.1L543.0 258.1L541.1 258.6L539.6 257.5L538.0 256.7L536.9 255.4L536.5 254.4L535.3 253.5L534.0 252.3L533.9 251.1L533.4 250.5L534.2 249.3L534.4 247.1L533.8 245.4L534.5 243.3L535.7 241.2L536.9 239.6L538.0 239.0L539.2 238.1L539.4 236.8L540.3 234.7L541.6 233.9ZM585.0 271.3L585.8 274.1L585.1 275.7L584.4 278.2L583.4 281.5L581.8 282.4L580.6 281.1L580.4 279.0L581.1 277.4L580.9 275.6L582.0 274.5L583.2 273.7L584.2 272.5ZM539.6 231.2L540.1 229.7L539.6 228.9L540.1 226.7L539.8 224.9L540.7 224.4L543.0 224.6L545.4 224.7L545.9 223.5L546.0 221.9L545.0 220.4L543.3 219.2L544.6 218.7L545.7 218.8L545.5 217.6L547.1 217.9L548.1 216.3L549.6 215.6L550.4 214.2L550.8 213.2L552.3 212.8L553.6 212.4L553.5 210.3L553.2 208.2L555.0 207.2L554.9 208.9L554.6 210.9L555.4 212.0L556.6 211.7L557.7 212.3L559.6 211.6L561.2 211.2L562.2 211.7L563.1 210.3L563.1 208.2L564.3 207.2L565.7 207.7L565.7 206.0L565.0 205.0L567.0 204.3L568.5 204.2L570.1 203.7L568.9 202.8L567.0 203.3L564.7 203.9L563.5 202.2L563.3 199.2L564.7 197.1L566.4 195.0L565.4 193.9L563.9 194.4L563.3 196.3L561.6 198.5L560.3 201.4L560.2 203.0L561.4 204.0L560.0 205.7L559.6 207.7L559.3 209.3L557.9 210.1L556.9 210.4L556.8 208.9L556.0 207.0L555.4 205.3L554.9 204.8L553.9 206.3L552.5 206.7L551.1 205.6L550.8 203.0L550.8 200.5L551.9 199.2L553.5 197.8L555.0 196.3L556.2 194.4L556.9 191.5L558.1 189.5L559.3 187.9L562.3 185.2L566.2 182.9L568.5 182.9L570.8 184.5L572.4 186.3L574.7 187.0L577.8 189.9L578.8 191.9L577.8 193.1L575.5 192.7L573.5 192.1L572.4 192.5L573.5 195.3L573.9 196.6L575.9 197.3L576.2 196.3L577.8 195.9L578.2 194.4L579.7 192.7L580.9 193.1L581.0 188.9L582.4 189.1L582.4 191.5L584.0 190.1L587.8 188.5L591.7 187.6L593.6 185.9L597.1 187.0L599.4 188.5L600.2 187.9L598.6 182.9L599.4 177.9L603.1 178.4L603.3 182.9L603.7 188.5L602.5 192.9L604.0 191.5L604.8 187.4L607.1 180.5L609.1 176.6L614.1 175.2L616.4 170.8L624.1 167.6L627.2 163.4L629.5 165.9L633.4 169.2L634.5 175.2L638.0 176.6L642.7 176.0L645.7 180.5L647.3 182.9L651.1 181.7L655.0 179.2L658.9 179.7L662.7 181.7L666.6 182.9L670.5 185.2L672.8 185.9L676.6 185.2L678.6 187.4L682.0 185.2L685.9 187.4L688.2 188.9L692.1 191.5L693.6 193.5L691.7 196.3L689.4 195.7L687.1 194.4L685.9 195.3L684.7 196.3L684.0 199.5L681.3 200.9L679.0 203.3L675.9 203.7L673.9 204.0L672.8 206.7L672.4 208.9L671.8 210.9L670.5 212.9L669.3 213.8L667.9 216.1L667.1 213.6L667.0 210.9L667.4 208.2L668.9 206.4L670.5 203.0L672.8 201.4L673.5 200.0L670.8 201.0L668.1 201.4L666.6 204.5L664.3 205.3L662.0 204.5L657.3 204.8L655.0 207.5L653.1 210.9L651.5 211.5L653.1 212.5L655.0 213.6L655.8 214.8L655.4 217.3L655.0 219.6L653.5 221.9L651.5 224.1L649.6 225.4L648.1 225.7L647.3 225.7L646.9 226.7L645.7 228.2L645.4 228.9L646.5 230.7L646.9 232.6L645.7 233.3L644.6 233.6L644.4 231.7L644.8 230.7L643.4 230.2L643.6 228.7L642.8 228.2L641.1 229.2L640.7 227.7L638.8 229.0L637.8 229.4L638.4 230.4L639.6 230.8L641.5 231.0L640.3 231.7L639.2 232.9L640.0 234.5L641.0 236.3L640.7 237.5L641.1 238.1L640.3 239.5L639.4 241.2L638.4 242.3L637.2 243.3L635.7 244.0L634.5 244.4L633.0 245.0L631.8 245.2L631.8 246.0L631.5 245.0L630.3 244.9L629.3 245.7L628.5 247.1L629.5 248.7L630.7 249.6L631.3 251.5L631.2 252.8L629.5 253.8L629.1 254.6L628.0 255.3L627.8 254.0L626.4 253.5L625.9 252.5L624.9 252.0L624.5 251.5L624.1 252.3L623.6 253.8L624.0 254.8L624.5 256.3L625.4 256.7L626.4 257.7L626.8 258.9L626.8 259.9L627.4 260.9L626.7 260.8L625.3 259.9L624.5 258.9L624.4 257.5L623.7 256.6L622.8 255.6L623.0 254.2L623.0 252.7L622.3 250.5L622.2 249.1L621.0 248.9L619.9 249.5L619.7 247.5L618.7 246.2L617.9 245.0L617.6 244.2L616.4 244.6L615.2 244.7L614.1 245.2L613.7 246.2L612.5 246.6L610.6 248.7L608.8 249.9L608.8 251.6L608.5 252.8L608.3 254.0L607.9 254.8L607.3 255.1L606.7 255.7L606.0 255.0L605.4 253.1L604.7 251.9L604.3 250.3L603.5 248.7L603.1 246.6L603.0 245.4L602.7 245.0L601.7 245.6L600.2 244.3L601.0 243.9L599.8 243.3L598.9 242.2L596.7 241.8L594.4 241.9L592.1 241.5L590.9 240.3L589.4 240.7L588.2 240.5L586.7 239.6L585.5 237.7L584.6 237.4L584.0 238.0L584.5 239.0L585.5 240.6L585.7 241.6L586.5 241.2L586.7 242.5L587.4 242.7L588.6 242.8L590.1 241.2L590.5 242.5L592.1 243.3L593.1 244.2L592.3 245.8L591.5 247.1L590.5 247.9L589.4 248.5L587.3 249.5L584.7 250.8L582.0 251.9L580.5 252.1L580.0 250.3L579.5 248.7L578.2 246.6L577.2 245.2L576.6 243.3L575.7 241.6L574.3 239.6L573.6 239.3L572.1 237.8L571.8 236.6L573.3 236.5L573.9 235.2L574.5 233.6L574.7 231.7L573.5 231.5L572.4 232.0L570.8 231.4L569.7 231.9L568.5 231.5L568.0 230.9L567.2 229.7L567.6 228.7L567.1 228.2L567.0 227.3L565.6 227.4L565.3 228.2L564.5 227.9L564.7 228.9L565.4 230.2L564.8 230.2L564.8 231.7L564.0 231.5L563.3 230.7L563.1 229.4L562.3 228.4L561.9 226.7L561.6 225.9L560.4 225.2L559.1 224.3L558.4 223.0L557.5 222.3L556.5 222.7L556.4 223.8L557.4 224.6L557.9 225.9L559.3 226.4L559.3 226.8L561.0 227.7L561.2 228.1L560.0 227.7L559.7 228.5L560.1 229.2L559.3 230.2L559.0 230.2L559.3 229.2L558.9 228.2L558.1 227.6L557.3 227.0L556.3 226.4L555.4 225.7L555.0 225.2L554.6 224.1L553.7 223.7L552.7 224.3L551.5 225.0L550.4 224.7L549.4 224.9L549.4 226.2L548.4 226.9L547.3 227.7L546.7 228.7L546.9 229.5L546.4 230.4L545.4 231.4L543.4 231.6L542.7 232.2L542.0 231.4L541.1 231.0ZM542.5 217.2L544.2 216.9L546.1 216.4L547.9 215.8L548.2 213.9L547.1 213.6L546.9 212.7L545.9 210.9L545.4 209.6L544.7 209.0L545.4 207.3L543.8 207.2L544.6 205.8L543.0 205.8L542.3 207.5L542.7 209.6L543.2 210.9L544.4 211.1L544.6 212.9L543.4 213.2L543.7 214.2L542.9 215.1L544.2 215.6L543.4 216.1ZM539.2 215.3L540.7 215.2L542.1 214.5L542.3 212.9L542.7 211.6L541.9 210.7L540.6 210.7L540.3 211.7L539.2 212.3L539.6 213.6ZM647.4 236.5L648.4 236.3L648.8 234.5L650.4 234.5L651.5 234.4L652.5 233.6L654.1 233.3L655.0 232.9L655.6 232.2L655.8 229.9L656.6 228.7L656.2 226.9L655.2 227.2L655.0 228.4L654.6 229.9L652.9 231.3L652.3 231.7L651.8 232.5L649.6 232.6L648.1 233.7L647.3 234.7L647.1 235.4ZM655.0 226.6L655.8 225.7L657.6 226.2L659.3 224.8L658.3 224.1L656.9 222.7L656.3 222.6L656.2 224.8L655.2 225.2ZM656.6 221.9L657.7 221.0L657.3 218.5L658.5 218.2L657.5 214.8L657.3 211.9L656.6 212.9L656.6 217.3L656.6 219.6ZM639.7 243.7L640.3 244.6L641.0 242.2L640.3 241.9ZM630.8 246.9L632.2 247.5L632.6 246.4L631.5 246.1ZM608.5 255.8L608.8 254.5L610.1 256.2L609.4 257.2L608.7 257.4ZM640.0 247.5L641.3 247.5L641.3 249.1L640.7 250.3L641.1 251.1L642.7 251.9L642.7 252.3L641.7 251.4L640.1 251.2L639.6 250.3L639.8 249.2ZM641.1 256.6L642.3 255.4L643.8 254.4L644.6 255.8L644.4 257.0L643.7 257.6L642.7 257.0ZM641.1 253.8L642.3 253.1L643.8 253.3L643.4 254.2L641.9 254.8ZM637.4 255.5L639.2 253.3L639.2 254.0L637.6 255.6ZM631.1 260.8L632.1 260.7L632.8 260.1L634.2 259.5L634.9 258.5L636.1 257.7L637.0 256.6L637.8 257.1L638.9 258.0L638.0 258.7L637.9 259.7L638.6 261.2L637.6 261.6L637.6 262.8L636.9 263.9L636.5 264.9L635.3 265.1L634.2 264.5L633.0 264.5L632.0 264.2L631.8 263.2L631.1 262.4ZM620.5 257.7L622.2 258.0L624.4 259.8L625.3 260.5L626.8 261.8L627.6 263.2L628.8 264.3L628.6 266.5L627.6 266.5L625.9 265.1L624.7 263.5L623.4 261.8L622.6 260.3L621.0 258.9ZM628.1 267.3L629.1 266.6L630.7 267.1L632.4 267.0L633.9 267.3L635.3 268.0L635.2 268.7L632.6 268.4L630.3 268.0L629.0 267.7ZM635.7 268.4L638.8 268.4L641.9 268.4L643.4 268.6L645.0 268.5L642.7 269.9L639.6 269.4L636.5 269.0ZM638.8 264.3L639.4 261.6L640.3 261.0L643.4 260.8L643.0 261.6L640.3 261.8L640.7 262.8L642.1 262.8L641.1 263.5L641.7 265.5L640.7 265.6L640.3 264.3L639.9 266.3L639.2 266.3ZM645.4 261.2L646.3 260.8L646.1 262.4L645.6 262.6ZM645.7 264.3L647.9 264.5L646.9 264.8L645.6 264.7ZM648.1 262.6L649.2 262.3L650.4 262.6L651.1 264.5L653.1 263.2L655.8 264.0L658.5 264.9L659.6 266.3L661.0 266.6L660.4 267.3L661.6 269.0L663.4 270.2L660.8 269.8L659.6 268.4L657.7 268.2L656.9 269.1L655.4 268.4L653.6 268.4L653.5 266.6L651.5 265.5L649.6 265.1L648.8 264.2L650.0 263.8L648.8 263.5ZM661.6 266.3L663.1 266.3L664.5 265.2L664.3 265.9L663.1 266.9L662.0 266.8ZM634.5 279.4L634.9 282.8L635.7 286.3L635.7 289.5L635.9 290.3L637.9 291.0L639.6 289.9L642.3 289.9L644.2 288.4L646.5 287.7L648.1 287.7L650.0 288.3L651.3 290.6L652.3 289.5L653.3 288.7L653.1 289.9L653.5 291.5L654.6 291.8L655.4 293.8L657.7 294.6L658.9 294.1L659.9 294.9L661.2 293.7L662.7 293.0L663.3 290.9L663.9 289.0L664.9 287.2L665.4 285.0L665.2 282.4L663.5 280.8L662.3 279.7L661.2 277.8L659.9 276.9L659.6 275.7L659.1 273.7L658.1 273.2L657.7 271.7L656.9 270.3L656.3 272.1L656.2 274.1L655.6 275.7L654.2 275.6L653.1 274.5L651.5 273.7L651.9 272.5L652.5 271.5L651.1 271.5L649.6 270.9L648.1 271.6L647.3 272.5L646.9 273.7L645.7 273.6L644.8 272.9L643.8 273.3L642.7 274.8L641.3 275.5L641.1 276.5L639.2 277.8L637.1 278.3L635.3 279.2ZM658.6 296.5L660.0 296.9L661.3 296.7L661.3 298.0L660.4 299.4L659.6 299.4L659.0 298.1ZM680.3 290.4L681.7 291.8L682.4 292.5L682.8 293.4L684.6 293.5L684.2 295.0L683.5 295.3L683.4 296.3L682.3 297.4L681.8 297.1L682.0 296.0L681.1 295.1L681.7 294.3L681.8 293.1L680.5 290.9ZM680.3 296.3L681.4 297.3L680.5 298.8L680.3 299.7L679.1 300.5L678.7 302.0L677.8 302.8L676.9 302.8L675.5 302.1L676.2 300.8L677.4 299.7L679.0 298.3L679.9 296.8ZM673.5 277.9L675.9 279.7L675.5 279.8L673.5 278.3ZM556.6 230.2L558.9 230.0L558.6 231.5L556.6 230.6ZM553.2 229.2L553.3 227.2L554.3 227.2L554.4 229.0L553.5 229.3ZM553.5 226.8L554.2 226.7L554.2 225.3L553.6 225.7ZM565.0 232.8L567.2 232.9L565.8 232.5ZM571.8 233.3L573.5 232.5L572.8 233.4Z" fill="#ececec"/>
<path d="M568.5 226.7L569.4 227.0L571.2 227.0L572.8 226.2L573.9 226.2L575.1 226.9L576.6 227.2L578.6 227.0L579.0 226.2L577.8 224.6L576.2 223.5L575.5 222.8L576.5 221.7L577.2 220.6L575.9 221.1L574.2 221.6L573.9 222.2L575.1 222.7L574.2 223.1L572.8 223.7L572.0 222.6L572.8 221.9L571.6 221.6L570.7 221.3L569.8 222.7L569.1 224.1L568.4 225.4ZM583.2 223.0L584.7 221.3L586.7 221.0L587.8 221.3L587.8 223.0L586.3 223.5L585.9 225.2L587.4 225.7L588.4 227.2L587.8 228.7L588.6 230.2L588.4 231.2L587.1 231.5L585.5 230.9L584.7 229.7L585.1 227.7L584.0 226.2L583.6 224.6ZM592.1 221.3L593.6 221.6L594.0 223.5L592.5 224.1L591.9 223.0ZM627.1 215.5L628.4 214.8L630.7 212.5L631.7 210.1L631.1 210.0L629.5 212.8L628.0 214.1ZM475.9 221.1L477.8 219.6L478.9 218.7L481.3 219.8L481.6 221.3L479.7 221.3L478.6 220.8L477.0 221.2ZM479.1 226.2L480.3 226.2L480.5 223.5L481.3 222.1L479.7 222.2L478.9 223.5ZM481.6 221.9L484.0 221.9L485.1 223.2L483.8 224.9L483.2 224.9L482.4 224.1L482.6 222.8ZM482.6 226.4L484.3 226.6L485.9 225.4L484.7 225.5L483.2 225.9ZM485.3 224.8L487.4 224.8L488.1 224.1L487.1 224.0L485.7 224.3ZM470.4 216.7L472.4 216.8L472.1 214.8L471.2 212.5L470.2 212.9L470.8 214.8ZM456.5 202.2L459.6 202.2L462.3 199.4L460.8 199.0L458.9 200.5L456.9 201.2ZM450.8 194.4L454.2 195.3L455.8 193.5L455.4 191.5L452.7 191.9L451.1 193.1ZM460.8 205.0L462.7 205.3L463.5 204.5L461.6 204.3ZM570.8 203.7L572.0 203.3L572.4 202.0L571.2 201.2L570.1 202.2ZM573.9 202.2L574.9 201.8L574.7 199.7L573.5 199.7ZM571.6 262.4L573.2 262.2L573.2 263.8L572.0 264.1L571.4 263.2ZM569.5 264.7L570.1 265.9L570.8 268.6L570.3 268.6L569.5 266.3ZM573.2 269.5L573.9 270.9L574.1 272.9L573.5 273.1L573.3 270.9ZM603.7 221.9L605.6 221.0L607.9 221.3L607.5 222.1L604.8 222.8L604.0 223.0Z" fill="#c9c9c9"/>
<path d="M512.1 204.0L513.7 203.7L514.5 200.5L516.0 196.3L518.3 194.1L522.2 189.5L526.8 188.5L529.9 185.2L531.5 175.2L504.4 175.2L505.2 185.2L506.0 189.5L505.6 192.5L506.7 197.1L508.3 200.5L509.8 202.5Z" fill="#dadada"/><path d="M504.4 175.2L508.7 175.2L508.7 187.4L509.4 192.5L510.6 197.1L512.1 200.5L513.5 203.3L512.1 204.0L509.8 202.5L508.3 200.5L506.7 197.1L505.6 192.5L506.0 189.5L505.2 185.2Z" fill="#ececec"/>
<path d="M452.7 190.5L449.6 195.3L455.8 203.7L463.5 207.5L468.9 210.9L472.0 214.8L475.1 217.3L478.9 214.8L475.1 208.9L473.5 203.7L475.1 198.9L478.9 195.3L481.3 185.7L473.5 185.2L465.8 186.3L458.1 186.3Z" fill="#c9c9c9" fill-opacity="0.28"/><path d="M486.7 214.8L485.9 209.6L487.4 203.7L491.3 201.4L494.4 206.7L499.0 208.2L500.6 213.6L495.9 216.1L491.3 217.3Z" fill="#c9c9c9" fill-opacity="0.2"/>
<path d="M695.1 194.2L698.3 192.3L698.5 191.3L696.3 188.7L699.0 187.4L702.1 183.4L704.0 182.2L707.5 183.4L710.6 184.5L716.0 185.9L719.9 187.6L722.2 186.3L726.1 184.8L728.4 186.6L731.5 185.7L736.1 187.9L736.9 189.9L740.0 189.7L741.5 191.5L743.8 189.5L749.2 189.9L750.8 188.9L752.3 181.7L753.9 186.3L755.0 188.5L756.9 190.5L758.5 189.5L758.9 186.3L761.2 185.9L762.1 188.5L761.6 192.5L758.5 192.9L757.7 195.3L756.2 197.1L754.6 198.9L753.1 200.5L751.9 203.0L751.8 205.6L753.1 205.7L753.5 208.2L755.4 208.2L756.9 209.3L759.3 210.5L761.3 210.8L761.6 213.6L762.0 214.6L762.7 215.7L763.9 215.5L764.0 213.6L763.9 211.6L765.4 210.3L765.8 208.9L765.1 206.7L764.3 205.6L765.1 203.7L764.7 200.0L767.0 200.0L768.5 200.5L770.8 202.2L771.2 205.3L772.4 206.3L773.9 205.6L774.9 203.3L776.6 206.7L777.8 209.6L780.1 211.6L781.7 213.6L781.9 214.8L780.9 215.6L778.6 217.0L775.5 216.9L773.2 218.0L771.2 219.6L770.1 221.0L771.6 219.9L774.7 218.2L775.2 219.1L774.7 219.9L774.9 221.0L775.9 221.9L777.4 222.2L778.6 221.3L777.8 222.7L775.9 223.5L774.2 224.6L773.8 223.7L773.2 223.0L771.6 224.1L770.5 224.8L770.3 226.2L770.8 226.5L769.7 226.8L767.8 227.6L767.6 228.7L766.6 229.7L766.2 231.2L766.4 232.6L765.4 233.6L763.9 234.7L762.3 236.1L762.1 237.7L762.9 239.9L763.0 241.4L762.3 242.0L761.7 241.2L761.0 239.6L761.0 238.6L760.0 237.7L758.9 238.0L757.7 237.3L756.2 237.4L755.9 238.4L754.6 238.3L752.7 238.0L751.5 238.4L750.0 239.6L749.8 241.2L749.5 242.9L749.4 244.3L749.8 245.8L750.8 247.1L751.8 247.6L753.5 247.4L754.6 247.1L755.0 245.6L756.6 245.0L757.7 245.1L757.3 246.6L756.9 247.6L756.4 249.1L756.8 249.6L758.5 249.6L760.0 249.7L760.7 250.3L760.4 252.3L760.3 253.5L761.2 254.8L762.3 255.2L763.4 254.6L764.7 254.8L765.2 255.4L765.1 255.8L764.3 255.6L763.1 256.3L762.0 256.0L760.8 255.6L759.3 254.4L758.6 253.5L757.3 251.9L755.8 251.5L754.2 251.1L753.1 249.9L751.9 249.3L750.4 249.7L748.5 249.0L746.5 248.3L745.0 247.5L743.6 246.2L743.4 244.7L742.7 243.3L741.1 241.8L740.3 240.3L739.2 239.5L738.0 238.1L737.5 236.6L736.3 236.2L736.5 237.7L737.6 239.5L738.8 241.2L739.6 242.6L740.1 243.7L739.6 243.3L738.4 242.1L737.3 240.5L736.1 239.5L736.5 238.8L735.3 237.2L734.5 235.4L733.4 234.1L731.8 233.6L730.8 231.7L730.3 230.4L729.3 228.7L728.9 227.2L728.8 225.2L729.1 221.7L728.6 219.2L729.9 219.3L730.3 218.5L728.8 217.3L726.8 216.1L726.1 214.2L724.5 211.9L723.4 210.3L721.8 207.5L720.3 206.0L718.7 205.3L716.8 204.0L714.5 203.7L712.2 202.5L710.2 203.0L709.1 204.5L707.5 205.3L707.9 203.0L706.4 205.0L706.0 206.7L704.0 208.2L702.5 209.6L700.6 210.7L698.6 211.2L697.9 211.6L699.4 209.8L701.3 208.9L702.9 206.7L703.3 205.6L701.3 205.6L699.8 205.3L699.4 203.7L697.5 202.5L697.1 200.5L697.9 198.9L700.2 198.0L700.6 196.3L698.6 196.3L696.3 195.7ZM774.7 201.4L772.4 200.0L769.7 198.0L767.8 196.3L765.1 196.6L764.7 194.4L767.8 193.5L768.5 189.5L765.4 185.2L769.3 181.7L772.4 184.5L773.2 187.4L777.0 191.5L777.4 193.5L775.5 195.3L772.8 194.4L775.1 198.0L774.7 201.4ZM734.5 187.4L737.6 188.3L741.5 188.1L746.1 187.9L746.9 185.2L743.8 179.2L738.4 177.9L733.8 180.5L734.5 187.4ZM757.7 198.0L760.0 199.2L762.3 198.0L762.7 196.3L760.0 194.4L758.5 196.3ZM779.1 220.0L781.7 221.0L784.0 221.1L784.2 220.1L783.6 218.2L781.8 217.3L782.0 215.3L780.7 216.7L779.7 218.7ZM759.3 244.7L761.2 243.7L763.1 243.7L765.4 244.8L767.6 246.1L765.1 246.3L764.7 245.7L762.3 244.6L760.4 244.4ZM767.4 247.5L768.5 246.3L770.8 246.4L772.1 247.4L770.5 247.7L769.5 248.1L768.1 247.6ZM764.4 247.5L766.0 247.8L765.2 248.0ZM773.0 247.5L774.2 247.6L773.5 247.9ZM806.4 194.4L807.9 192.7L811.0 193.1L812.5 192.5L813.7 194.4L814.4 195.3L813.3 196.6L810.6 198.2L807.9 197.3L807.5 195.7ZM765.2 255.4L766.2 254.6L766.6 253.7L767.8 253.3L769.3 252.5L769.7 253.5L770.8 252.7L772.4 253.8L774.7 254.1L777.0 253.7L777.8 254.6L778.6 255.6L780.5 257.4L783.2 257.5L784.7 258.5L785.5 260.1L786.3 261.6L786.3 262.4L787.8 262.8L790.1 263.4L790.9 263.9L792.9 264.2L794.8 264.9L796.3 265.7L797.7 266.3L797.9 268.2L796.7 270.2L795.6 272.1L794.8 273.7L794.6 276.1L793.6 278.2L793.2 279.4L791.7 280.3L790.1 280.9L788.6 281.7L787.4 282.8L787.3 285.0L785.9 287.2L784.4 289.2L783.2 290.6L781.3 290.7L779.9 289.9L780.7 292.0L780.3 293.8L777.8 294.8L776.8 296.6L774.7 296.8L775.5 298.5L774.5 300.5L772.8 302.1L773.9 304.1L772.4 306.7L771.6 309.2L772.0 310.4L770.8 310.4L767.0 306.7L767.4 303.2L768.1 299.9L767.8 297.3L768.1 294.8L768.4 292.8L768.9 290.9L769.7 288.1L769.8 285.4L770.5 282.8L770.6 280.3L770.7 277.8L770.5 276.4L768.9 275.3L766.6 273.7L765.8 272.5L765.1 270.9L763.9 268.6L763.1 267.0L762.2 265.9L762.7 264.7L763.1 263.9L762.3 262.8L763.1 261.6L763.9 260.8L764.3 260.1L765.2 258.9L765.1 257.4L765.1 256.2ZM820.4 232.4L823.4 232.9L825.7 231.7L828.8 231.4L832.2 230.9L833.4 231.4L832.8 232.6L833.0 234.1L833.8 234.8L836.5 235.6L839.6 237.4L840.3 236.3L841.5 235.2L844.2 236.2L847.3 236.8L849.6 236.5L850.0 237.7L850.8 239.5L851.9 242.1L852.5 243.3L853.5 245.4L853.7 247.1L854.6 248.3L855.4 249.9L856.6 251.1L858.1 252.3L858.3 253.1L859.6 253.8L861.2 253.3L862.7 253.2L864.4 252.8L864.3 253.8L863.1 256.6L862.0 258.5L860.4 260.1L858.5 262.0L856.9 263.4L855.8 264.7L855.0 266.3L855.2 267.8L855.6 269.8L856.2 271.7L856.3 273.7L855.0 275.3L853.3 276.5L851.9 278.2L852.3 280.3L850.4 282.4L850.2 284.1L849.2 285.9L848.1 287.7L846.1 289.5L844.6 289.9L841.9 290.1L840.3 290.7L839.1 290.1L838.8 288.6L838.0 286.3L836.9 284.1L836.1 281.1L835.9 279.4L834.6 276.5L834.0 274.5L835.3 271.7L835.5 270.2L834.6 267.0L834.2 265.9L832.2 263.9L832.1 262.0L832.4 260.5L832.4 259.1L831.5 258.4L830.3 258.6L829.1 258.1L828.4 257.1L826.4 257.1L824.1 258.0L822.6 258.1L821.0 258.1L819.1 258.6L817.6 257.5L816.0 256.7L814.9 255.4L814.5 254.4L813.3 253.5L812.0 252.3L811.9 251.1L811.4 250.5L812.2 249.3L812.4 247.1L811.8 245.4L812.5 243.3L813.7 241.2L814.9 239.6L816.0 239.0L817.2 238.1L817.4 236.8L818.3 234.7L819.6 233.9ZM863.0 271.3L863.8 274.1L863.1 275.7L862.4 278.2L861.4 281.5L859.8 282.4L858.6 281.1L858.4 279.0L859.1 277.4L858.9 275.6L860.0 274.5L861.2 273.7L862.2 272.5ZM817.6 231.2L818.1 229.7L817.6 228.9L818.1 226.7L817.8 224.9L818.7 224.4L821.0 224.6L823.4 224.7L823.9 223.5L824.0 221.9L823.0 220.4L821.3 219.2L822.6 218.7L823.7 218.8L823.5 217.6L825.1 217.9L826.1 216.3L827.6 215.6L828.4 214.2L828.8 213.2L830.3 212.8L831.6 212.4L831.5 210.3L831.2 208.2L833.0 207.2L832.9 208.9L832.6 210.9L833.4 212.0L834.6 211.7L835.7 212.3L837.6 211.6L839.2 211.2L840.2 211.7L841.1 210.3L841.1 208.2L842.3 207.2L843.7 207.7L843.7 206.0L843.0 205.0L845.0 204.3L846.5 204.2L848.1 203.7L846.9 202.8L845.0 203.3L842.7 203.9L841.5 202.2L841.3 199.2L842.7 197.1L844.4 195.0L843.4 193.9L841.9 194.4L841.3 196.3L839.6 198.5L838.3 201.4L838.2 203.0L839.4 204.0L838.0 205.7L837.6 207.7L837.3 209.3L835.9 210.1L834.9 210.4L834.8 208.9L834.0 207.0L833.4 205.3L832.9 204.8L831.9 206.3L830.5 206.7L829.1 205.6L828.8 203.0L828.8 200.5L829.9 199.2L831.5 197.8L833.0 196.3L834.2 194.4L834.9 191.5L836.1 189.5L837.3 187.9L840.3 185.2L844.2 182.9L846.5 182.9L848.8 184.5L850.4 186.3L852.7 187.0L855.8 189.9L856.8 191.9L855.8 193.1L853.5 192.7L851.5 192.1L850.4 192.5L851.5 195.3L851.9 196.6L853.9 197.3L854.2 196.3L855.8 195.9L856.2 194.4L857.7 192.7L858.9 193.1L859.0 188.9L860.4 189.1L860.4 191.5L862.0 190.1L865.8 188.5L869.7 187.6L871.6 185.9L875.1 187.0L877.4 188.5L878.2 187.9L876.6 182.9L877.4 177.9L881.1 178.4L881.3 182.9L881.7 188.5L880.5 192.9L882.0 191.5L882.8 187.4L885.1 180.5L887.1 176.6L892.1 175.2L894.4 170.8L902.1 167.6L905.2 163.4L907.5 165.9L911.4 169.2L912.5 175.2L916.0 176.6L920.7 176.0L923.7 180.5L925.3 182.9L929.1 181.7L933.0 179.2L936.9 179.7L940.7 181.7L944.6 182.9L948.5 185.2L950.8 185.9L954.6 185.2L956.6 187.4L960.0 185.2L963.9 187.4L966.2 188.9L970.1 191.5L971.6 193.5L969.7 196.3L967.4 195.7L965.1 194.4L963.9 195.3L962.7 196.3L962.0 199.5L959.3 200.9L957.0 203.3L953.9 203.7L951.9 204.0L950.8 206.7L950.4 208.9L949.8 210.9L948.5 212.9L947.3 213.8L945.9 216.1L945.1 213.6L945.0 210.9L945.4 208.2L946.9 206.4L948.5 203.0L950.8 201.4L951.5 200.0L948.8 201.0L946.1 201.4L944.6 204.5L942.3 205.3L940.0 204.5L935.3 204.8L933.0 207.5L931.1 210.9L929.5 211.5L931.1 212.5L933.0 213.6L933.8 214.8L933.4 217.3L933.0 219.6L931.5 221.9L929.5 224.1L927.6 225.4L926.1 225.7L925.3 225.7L924.9 226.7L923.7 228.2L923.4 228.9L924.5 230.7L924.9 232.6L923.7 233.3L922.6 233.6L922.4 231.7L922.8 230.7L921.4 230.2L921.6 228.7L920.8 228.2L919.1 229.2L918.7 227.7L916.8 229.0L915.8 229.4L916.4 230.4L917.6 230.8L919.5 231.0L918.3 231.7L917.2 232.9L918.0 234.5L919.0 236.3L918.7 237.5L919.1 238.1L918.3 239.5L917.4 241.2L916.4 242.3L915.2 243.3L913.7 244.0L912.5 244.4L911.0 245.0L909.8 245.2L909.8 246.0L909.5 245.0L908.3 244.9L907.3 245.7L906.5 247.1L907.5 248.7L908.7 249.6L909.3 251.5L909.2 252.8L907.5 253.8L907.1 254.6L906.0 255.3L905.8 254.0L904.4 253.5L903.9 252.5L902.9 252.0L902.5 251.5L902.1 252.3L901.6 253.8L902.0 254.8L902.5 256.3L903.4 256.7L904.4 257.7L904.8 258.9L904.8 259.9L905.4 260.9L904.7 260.8L903.3 259.9L902.5 258.9L902.4 257.5L901.7 256.6L900.8 255.6L901.0 254.2L901.0 252.7L900.3 250.5L900.2 249.1L899.0 248.9L897.9 249.5L897.7 247.5L896.7 246.2L895.9 245.0L895.6 244.2L894.4 244.6L893.2 244.7L892.1 245.2L891.7 246.2L890.5 246.6L888.6 248.7L886.8 249.9L886.8 251.6L886.5 252.8L886.3 254.0L885.9 254.8L885.3 255.1L884.7 255.7L884.0 255.0L883.4 253.1L882.7 251.9L882.3 250.3L881.5 248.7L881.1 246.6L881.0 245.4L880.7 245.0L879.7 245.6L878.2 244.3L879.0 243.9L877.8 243.3L876.9 242.2L874.7 241.8L872.4 241.9L870.1 241.5L868.9 240.3L867.4 240.7L866.2 240.5L864.7 239.6L863.5 237.7L862.6 237.4L862.0 238.0L862.5 239.0L863.5 240.6L863.7 241.6L864.5 241.2L864.7 242.5L865.4 242.7L866.6 242.8L868.1 241.2L868.5 242.5L870.1 243.3L871.1 244.2L870.3 245.8L869.5 247.1L868.5 247.9L867.4 248.5L865.3 249.5L862.7 250.8L860.0 251.9L858.5 252.1L858.0 250.3L857.5 248.7L856.2 246.6L855.2 245.2L854.6 243.3L853.7 241.6L852.3 239.6L851.6 239.3L850.1 237.8L849.8 236.6L851.3 236.5L851.9 235.2L852.5 233.6L852.7 231.7L851.5 231.5L850.4 232.0L848.8 231.4L847.7 231.9L846.5 231.5L846.0 230.9L845.2 229.7L845.6 228.7L845.1 228.2L845.0 227.3L843.6 227.4L843.3 228.2L842.5 227.9L842.7 228.9L843.4 230.2L842.8 230.2L842.8 231.7L842.0 231.5L841.3 230.7L841.1 229.4L840.3 228.4L839.9 226.7L839.6 225.9L838.4 225.2L837.1 224.3L836.4 223.0L835.5 222.3L834.5 222.7L834.4 223.8L835.4 224.6L835.9 225.9L837.3 226.4L837.3 226.8L839.0 227.7L839.2 228.1L838.0 227.7L837.7 228.5L838.1 229.2L837.3 230.2L837.0 230.2L837.3 229.2L836.9 228.2L836.1 227.6L835.3 227.0L834.3 226.4L833.4 225.7L833.0 225.2L832.6 224.1L831.7 223.7L830.7 224.3L829.5 225.0L828.4 224.7L827.4 224.9L827.4 226.2L826.4 226.9L825.3 227.7L824.7 228.7L824.9 229.5L824.4 230.4L823.4 231.4L821.4 231.6L820.7 232.2L820.0 231.4L819.1 231.0ZM820.5 217.2L822.2 216.9L824.1 216.4L825.9 215.8L826.2 213.9L825.1 213.6L824.9 212.7L823.9 210.9L823.4 209.6L822.7 209.0L823.4 207.3L821.8 207.2L822.6 205.8L821.0 205.8L820.3 207.5L820.7 209.6L821.2 210.9L822.4 211.1L822.6 212.9L821.4 213.2L821.7 214.2L820.9 215.1L822.2 215.6L821.4 216.1ZM817.2 215.3L818.7 215.2L820.1 214.5L820.3 212.9L820.7 211.6L819.9 210.7L818.6 210.7L818.3 211.7L817.2 212.3L817.6 213.6ZM925.4 236.5L926.4 236.3L926.8 234.5L928.4 234.5L929.5 234.4L930.5 233.6L932.1 233.3L933.0 232.9L933.6 232.2L933.8 229.9L934.6 228.7L934.2 226.9L933.2 227.2L933.0 228.4L932.6 229.9L930.9 231.3L930.3 231.7L929.8 232.5L927.6 232.6L926.1 233.7L925.3 234.7L925.1 235.4ZM933.0 226.6L933.8 225.7L935.6 226.2L937.3 224.8L936.3 224.1L934.9 222.7L934.3 222.6L934.2 224.8L933.2 225.2ZM934.6 221.9L935.7 221.0L935.3 218.5L936.5 218.2L935.5 214.8L935.3 211.9L934.6 212.9L934.6 217.3L934.6 219.6ZM917.7 243.7L918.3 244.6L919.0 242.2L918.3 241.9ZM908.8 246.9L910.2 247.5L910.6 246.4L909.5 246.1ZM886.5 255.8L886.8 254.5L888.1 256.2L887.4 257.2L886.7 257.4ZM918.0 247.5L919.3 247.5L919.3 249.1L918.7 250.3L919.1 251.1L920.7 251.9L920.7 252.3L919.7 251.4L918.1 251.2L917.6 250.3L917.8 249.2ZM919.1 256.6L920.3 255.4L921.8 254.4L922.6 255.8L922.4 257.0L921.7 257.6L920.7 257.0ZM919.1 253.8L920.3 253.1L921.8 253.3L921.4 254.2L919.9 254.8ZM915.4 255.5L917.2 253.3L917.2 254.0L915.6 255.6ZM909.1 260.8L910.1 260.7L910.8 260.1L912.2 259.5L912.9 258.5L914.1 257.7L915.0 256.6L915.8 257.1L916.9 258.0L916.0 258.7L915.9 259.7L916.6 261.2L915.6 261.6L915.6 262.8L914.9 263.9L914.5 264.9L913.3 265.1L912.2 264.5L911.0 264.5L910.0 264.2L909.8 263.2L909.1 262.4ZM898.5 257.7L900.2 258.0L902.4 259.8L903.3 260.5L904.8 261.8L905.6 263.2L906.8 264.3L906.6 266.5L905.6 266.5L903.9 265.1L902.7 263.5L901.4 261.8L900.6 260.3L899.0 258.9ZM906.1 267.3L907.1 266.6L908.7 267.1L910.4 267.0L911.9 267.3L913.3 268.0L913.2 268.7L910.6 268.4L908.3 268.0L907.0 267.7ZM913.7 268.4L916.8 268.4L919.9 268.4L921.4 268.6L923.0 268.5L920.7 269.9L917.6 269.4L914.5 269.0ZM916.8 264.3L917.4 261.6L918.3 261.0L921.4 260.8L921.0 261.6L918.3 261.8L918.7 262.8L920.1 262.8L919.1 263.5L919.7 265.5L918.7 265.6L918.3 264.3L917.9 266.3L917.2 266.3ZM923.4 261.2L924.3 260.8L924.1 262.4L923.6 262.6ZM923.7 264.3L925.9 264.5L924.9 264.8L923.6 264.7ZM926.1 262.6L927.2 262.3L928.4 262.6L929.1 264.5L931.1 263.2L933.8 264.0L936.5 264.9L937.6 266.3L939.0 266.6L938.4 267.3L939.6 269.0L941.4 270.2L938.8 269.8L937.6 268.4L935.7 268.2L934.9 269.1L933.4 268.4L931.6 268.4L931.5 266.6L929.5 265.5L927.6 265.1L926.8 264.2L928.0 263.8L926.8 263.5ZM939.6 266.3L941.1 266.3L942.5 265.2L942.3 265.9L941.1 266.9L940.0 266.8ZM912.5 279.4L912.9 282.8L913.7 286.3L913.7 289.5L913.9 290.3L915.9 291.0L917.6 289.9L920.3 289.9L922.2 288.4L924.5 287.7L926.1 287.7L928.0 288.3L929.3 290.6L930.3 289.5L931.3 288.7L931.1 289.9L931.5 291.5L932.6 291.8L933.4 293.8L935.7 294.6L936.9 294.1L937.9 294.9L939.2 293.7L940.7 293.0L941.3 290.9L941.9 289.0L942.9 287.2L943.4 285.0L943.2 282.4L941.5 280.8L940.3 279.7L939.2 277.8L937.9 276.9L937.6 275.7L937.1 273.7L936.1 273.2L935.7 271.7L934.9 270.3L934.3 272.1L934.2 274.1L933.6 275.7L932.2 275.6L931.1 274.5L929.5 273.7L929.9 272.5L930.5 271.5L929.1 271.5L927.6 270.9L926.1 271.6L925.3 272.5L924.9 273.7L923.7 273.6L922.8 272.9L921.8 273.3L920.7 274.8L919.3 275.5L919.1 276.5L917.2 277.8L915.1 278.3L913.3 279.2ZM936.6 296.5L938.0 296.9L939.3 296.7L939.3 298.0L938.4 299.4L937.6 299.4L937.0 298.1ZM958.3 290.4L959.7 291.8L960.4 292.5L960.8 293.4L962.6 293.5L962.2 295.0L961.5 295.3L961.4 296.3L960.3 297.4L959.8 297.1L960.0 296.0L959.1 295.1L959.7 294.3L959.8 293.1L958.5 290.9ZM958.3 296.3L959.4 297.3L958.5 298.8L958.3 299.7L957.1 300.5L956.7 302.0L955.8 302.8L954.9 302.8L953.5 302.1L954.2 300.8L955.4 299.7L957.0 298.3L957.9 296.8ZM951.5 277.9L953.9 279.7L953.5 279.8L951.5 278.3ZM834.6 230.2L836.9 230.0L836.6 231.5L834.6 230.6ZM831.2 229.2L831.3 227.2L832.3 227.2L832.4 229.0L831.5 229.3ZM831.5 226.8L832.2 226.7L832.2 225.3L831.6 225.7ZM843.0 232.8L845.2 232.9L843.8 232.5ZM849.8 233.3L851.5 232.5L850.8 233.4Z" fill="#ececec"/>
<path d="M846.5 226.7L847.4 227.0L849.2 227.0L850.8 226.2L851.9 226.2L853.1 226.9L854.6 227.2L856.6 227.0L857.0 226.2L855.8 224.6L854.2 223.5L853.5 222.8L854.5 221.7L855.2 220.6L853.9 221.1L852.2 221.6L851.9 222.2L853.1 222.7L852.2 223.1L850.8 223.7L850.0 222.6L850.8 221.9L849.6 221.6L848.7 221.3L847.8 222.7L847.1 224.1L846.4 225.4ZM861.2 223.0L862.7 221.3L864.7 221.0L865.8 221.3L865.8 223.0L864.3 223.5L863.9 225.2L865.4 225.7L866.4 227.2L865.8 228.7L866.6 230.2L866.4 231.2L865.1 231.5L863.5 230.9L862.7 229.7L863.1 227.7L862.0 226.2L861.6 224.6ZM870.1 221.3L871.6 221.6L872.0 223.5L870.5 224.1L869.9 223.0ZM905.1 215.5L906.4 214.8L908.7 212.5L909.7 210.1L909.1 210.0L907.5 212.8L906.0 214.1ZM753.9 221.1L755.8 219.6L756.9 218.7L759.3 219.8L759.6 221.3L757.7 221.3L756.6 220.8L755.0 221.2ZM757.1 226.2L758.3 226.2L758.5 223.5L759.3 222.1L757.7 222.2L756.9 223.5ZM759.6 221.9L762.0 221.9L763.1 223.2L761.8 224.9L761.2 224.9L760.4 224.1L760.6 222.8ZM760.6 226.4L762.3 226.6L763.9 225.4L762.7 225.5L761.2 225.9ZM763.3 224.8L765.4 224.8L766.1 224.1L765.1 224.0L763.7 224.3ZM748.5 216.7L750.4 216.8L750.1 214.8L749.2 212.5L748.2 212.9L748.8 214.8ZM734.5 202.2L737.6 202.2L740.3 199.4L738.8 199.0L736.9 200.5L734.9 201.2ZM728.8 194.4L732.2 195.3L733.8 193.5L733.4 191.5L730.7 191.9L729.1 193.1ZM738.8 205.0L740.7 205.3L741.5 204.5L739.6 204.3ZM848.8 203.7L850.0 203.3L850.4 202.0L849.2 201.2L848.1 202.2ZM851.9 202.2L852.9 201.8L852.7 199.7L851.5 199.7ZM849.6 262.4L851.2 262.2L851.2 263.8L850.0 264.1L849.4 263.2ZM847.5 264.7L848.1 265.9L848.8 268.6L848.3 268.6L847.5 266.3ZM851.2 269.5L851.9 270.9L852.1 272.9L851.5 273.1L851.3 270.9ZM881.7 221.9L883.6 221.0L885.9 221.3L885.5 222.1L882.8 222.8L882.0 223.0Z" fill="#c9c9c9"/>
<path d="M790.1 204.0L791.7 203.7L792.5 200.5L794.0 196.3L796.3 194.1L800.2 189.5L804.8 188.5L807.9 185.2L809.5 175.2L782.4 175.2L783.2 185.2L784.0 189.5L783.6 192.5L784.7 197.1L786.3 200.5L787.8 202.5Z" fill="#dadada"/><path d="M782.4 175.2L786.7 175.2L786.7 187.4L787.4 192.5L788.6 197.1L790.1 200.5L791.5 203.3L790.1 204.0L787.8 202.5L786.3 200.5L784.7 197.1L783.6 192.5L784.0 189.5L783.2 185.2Z" fill="#ececec"/>
<path d="M730.7 190.5L727.6 195.3L733.8 203.7L741.5 207.5L746.9 210.9L750.0 214.8L753.1 217.3L756.9 214.8L753.1 208.9L751.5 203.7L753.1 198.9L756.9 195.3L759.3 185.7L751.5 185.2L743.8 186.3L736.1 186.3Z" fill="#c9c9c9" fill-opacity="0.28"/><path d="M764.7 214.8L763.9 209.6L765.4 203.7L769.3 201.4L772.4 206.7L777.0 208.2L778.6 213.6L773.9 216.1L769.3 217.3Z" fill="#c9c9c9" fill-opacity="0.2"/>
<path d="M451.9 218.5L473.5 218.5L473.9 218.8L477.8 219.6L478.7 219.3L481.6 221.3L483.2 222.7L483.2 225.2L482.8 226.2L485.9 225.4L485.9 224.8L487.8 224.4L489.0 223.0L491.7 223.0L492.5 222.2L493.5 220.3L494.4 220.4L494.5 222.2L495.2 223.0L493.6 224.1L492.5 224.8L492.3 226.2L492.8 226.5L491.7 226.8L489.8 227.6L489.6 228.7L488.6 229.7L488.2 231.2L488.4 232.6L487.4 233.6L485.9 234.7L484.3 236.1L484.1 237.7L484.9 239.9L485.0 241.4L484.3 242.0L483.7 241.2L483.0 239.6L483.0 238.6L482.0 237.7L480.9 238.0L479.7 237.3L478.2 237.4L477.9 238.4L476.6 238.3L474.7 238.0L473.5 238.4L472.0 239.6L471.8 241.2L470.1 239.9L468.5 237.9L467.4 238.6L466.2 238.0L464.7 236.1L463.3 236.1L463.3 236.5L461.2 236.5L458.2 235.4L456.5 235.4L455.4 234.1L453.8 233.6L452.8 231.7L452.3 230.4L451.3 228.7L450.9 227.2L450.8 225.2L451.1 221.7L450.6 219.2L451.9 219.3ZM438.8 204.0L436.5 203.7L434.2 202.5L432.2 203.0L431.1 204.5L429.5 205.3L429.9 203.0L428.4 205.0L428.0 206.7L426.0 208.2L424.5 209.6L422.6 210.7L420.6 211.2L419.9 211.6L421.4 209.8L423.3 208.9L424.9 206.7L425.3 205.6L423.3 205.6L421.8 205.3L421.4 203.7L419.5 202.5L419.1 200.5L419.9 198.9L422.2 198.0L422.6 196.3L420.6 196.3L418.3 195.7L417.1 194.2L420.3 192.3L420.5 191.3L418.3 188.7L421.0 187.4L424.1 183.4L426.0 182.2L429.5 183.4L432.6 184.5L438.0 185.9L438.0 203.3ZM438.0 203.3L439.9 203.3L441.9 203.9L443.6 205.6L445.1 207.9L446.7 209.4L447.1 211.5L445.7 212.3L443.8 210.9L442.0 208.5L441.1 206.4L439.6 205.0L438.0 204.0Z" fill="#a29be6" fill-opacity="1"/>
<path d="M456.5 235.4L458.2 235.4L461.2 236.5L463.3 236.5L463.3 236.1L464.7 236.1L466.2 238.0L467.4 238.6L468.5 237.9L470.1 239.9L471.8 241.2L471.5 242.9L471.4 244.3L471.8 245.8L472.8 247.1L473.8 247.6L475.5 247.4L476.6 247.1L477.0 245.6L478.6 245.0L479.7 245.1L479.3 246.6L478.9 247.6L478.0 248.0L477.0 248.0L476.6 249.5L475.9 249.5L475.7 250.7L475.1 249.9L473.9 249.3L472.4 249.7L470.4 249.0L468.5 248.3L467.0 247.5L465.6 246.2L465.4 244.7L464.7 243.3L463.1 241.8L462.3 240.3L461.2 239.5L460.0 238.1L459.5 236.6L458.3 236.2L458.5 237.7L459.6 239.5L460.8 241.2L461.6 242.6L462.1 243.7L461.6 243.3L460.4 242.1L459.3 240.5L458.1 239.5L458.5 238.8L457.3 237.2Z" fill="#5fada6" fill-opacity="1"/>
<path d="M551.5 216.1L551.7 217.3L551.9 218.1L553.2 218.5L552.8 220.1L554.3 220.2L555.0 220.3L556.9 220.2L557.6 218.8L556.3 217.0L558.3 216.2L558.3 214.8L557.9 213.2L557.9 212.4L556.6 211.7L555.4 212.0L554.6 211.2L554.2 211.2L553.5 211.1L553.6 212.4L552.3 212.8L552.5 214.2L551.5 215.1Z" fill="#7a6fd8" fill-opacity="1"/>
<path d="M557.5 222.3L556.5 222.7L556.4 223.8L557.4 224.6L557.9 225.9L559.3 226.4L559.3 226.8L561.0 227.7L561.2 228.1L560.0 227.7L559.7 228.5L560.1 229.2L559.3 230.2L559.0 230.2L559.3 229.2L558.9 228.2L558.1 227.6L557.3 227.0L556.3 226.4L555.4 225.7L555.0 225.2L554.6 224.1L553.7 223.7L552.7 224.3L552.8 223.9L552.2 223.0L552.3 222.0L553.4 221.5L553.9 221.9L555.0 221.0L556.3 220.8L557.3 221.3ZM556.6 230.2L558.9 230.0L558.6 231.5L556.6 230.6ZM553.2 229.2L553.3 227.2L554.3 227.2L554.4 229.0L553.5 229.3Z" fill="#77d5d3" fill-opacity="1"/>
<path d="M603.8 228.7L604.7 229.7L605.6 232.2L607.5 233.6L607.9 235.4L609.4 237.5L611.8 238.8L613.3 239.5L615.5 239.8L615.6 240.1L617.9 239.6L619.9 238.4L621.0 238.3L622.0 239.2L623.1 239.9L623.0 242.1L622.3 242.9L623.4 244.6L624.3 245.0L625.4 245.2L625.8 244.2L627.2 244.0L628.4 243.6L629.3 244.6L630.3 244.9L631.5 245.0L631.8 246.0L631.8 245.2L633.0 245.0L634.5 244.4L635.7 244.0L637.2 243.3L638.4 242.3L639.4 241.2L640.3 239.5L641.1 238.1L640.7 237.5L641.0 236.3L640.0 234.5L639.2 232.9L640.3 231.7L641.5 231.0L639.6 230.8L638.4 230.4L637.8 229.4L638.8 229.0L640.7 227.7L641.1 229.2L642.8 228.2L644.2 226.6L645.7 226.2L647.7 225.7L648.1 223.2L649.6 223.0L650.9 219.3L649.6 219.5L648.1 220.0L647.7 218.6L645.4 217.5L644.2 213.8L642.3 212.9L640.3 213.2L639.6 214.8L637.6 217.8L636.9 217.4L636.1 219.6L638.8 220.8L639.4 221.1L637.2 221.5L635.7 222.6L633.4 223.0L633.0 224.5L630.3 225.7L628.0 226.5L624.1 225.6L621.4 225.4L620.3 223.8L617.2 222.8L616.8 220.2L614.9 218.2L614.1 218.4L612.9 220.6L611.0 220.6L610.6 222.7L608.9 223.0L609.1 225.2L608.7 226.1L606.4 227.2L604.0 228.0ZM630.8 246.9L632.2 247.5L632.6 246.4L631.5 246.1Z" fill="#a99ff3" fill-opacity="1"/>
<path d="M624.3 257.0L625.0 257.6L625.7 257.2L626.7 258.5L626.8 259.9L627.4 260.9L626.7 260.9L625.1 259.8L624.5 258.5ZM631.5 260.5L632.8 260.1L634.2 259.5L634.9 258.5L636.1 257.7L637.0 256.6L637.8 257.1L638.9 258.0L638.0 258.7L637.6 258.8L636.3 258.7L635.7 259.7L635.7 260.2L635.3 260.8L634.2 260.9L633.4 261.1L632.2 261.3Z" fill="#b4ecef" fill-opacity="1"/>
<path d="M634.5 279.4L634.9 282.8L635.7 286.3L635.7 289.5L635.9 290.3L637.9 291.0L639.6 289.9L642.3 289.9L644.2 288.4L646.5 287.7L648.1 287.7L650.0 288.3L651.3 290.6L652.3 289.5L653.3 288.7L653.1 289.9L653.5 291.5L654.6 291.8L655.4 293.8L657.7 294.6L658.9 294.1L659.9 294.9L661.2 293.7L662.7 293.0L663.3 290.9L663.9 289.0L664.9 287.2L665.4 285.0L665.2 282.4L663.5 280.8L662.3 279.7L661.2 277.8L659.9 276.9L659.6 275.7L659.1 273.7L658.1 273.2L657.7 271.7L656.9 270.3L656.3 272.1L656.2 274.1L655.6 275.7L654.2 275.6L653.1 274.5L651.5 273.7L651.9 272.5L652.5 271.5L651.1 271.5L649.6 270.9L648.1 271.6L647.3 272.5L646.9 273.7L645.7 273.6L644.8 272.9L643.8 273.3L642.7 274.8L641.3 275.5L641.1 276.5L639.2 277.8L637.1 278.3L635.3 279.2ZM658.6 296.5L660.0 296.9L661.3 296.7L661.3 298.0L660.4 299.4L659.6 299.4L659.0 298.1Z" fill="#76aff6" fill-opacity="1"/>
<path d="M680.3 290.4L681.7 291.8L682.4 292.5L682.8 293.4L684.6 293.5L684.2 295.0L683.5 295.3L683.4 296.3L682.3 297.4L681.8 297.1L682.0 296.0L681.1 295.1L681.7 294.3L681.8 293.1L680.5 290.9ZM680.3 296.3L681.4 297.3L680.5 298.8L680.3 299.7L679.1 300.5L678.7 302.0L677.8 302.8L676.9 302.8L675.5 302.1L676.2 300.8L677.4 299.7L679.0 298.3L679.9 296.8Z" fill="#f5b79b" fill-opacity="1"/>
<path d="M475.9 221.1L477.8 219.6L478.9 218.7L481.3 219.8L481.6 221.3L479.7 221.3L478.6 220.8L477.0 221.2ZM479.1 226.2L480.3 226.2L480.5 223.5L481.3 222.1L479.7 222.2L478.9 223.5ZM481.6 221.9L484.0 221.9L485.1 223.2L483.8 224.9L483.2 224.9L482.4 224.1L482.6 222.8ZM482.6 226.4L484.3 226.6L485.9 225.4L484.7 225.5L483.2 225.9ZM485.3 224.8L487.4 224.8L488.1 224.1L487.1 224.0L485.7 224.3Z" fill="#c9c9c9"/>
<text x="481.50" y="214.50" font-size="5.6" fill="#555" text-anchor="middle" textLength="45.00" lengthAdjust="spacingAndGlyphs" stroke="#f0f0f0" stroke-width="0.6" paint-order="stroke">NORTH AMERICA</text>
<text x="519.00" y="276.00" font-size="5.6" fill="#555" text-anchor="middle" textLength="45.00" lengthAdjust="spacingAndGlyphs" stroke="#f0f0f0" stroke-width="0.6" paint-order="stroke">SOUTH AMERICA</text>
<text x="571.50" y="218.00" font-size="5.6" fill="#555" text-anchor="middle" textLength="22.00" lengthAdjust="spacingAndGlyphs" stroke="#f0f0f0" stroke-width="0.6" paint-order="stroke">EUROPE</text>
<text x="631.50" y="212.80" font-size="5.6" fill="#555" text-anchor="middle" textLength="12.50" lengthAdjust="spacingAndGlyphs" stroke="#f0f0f0" stroke-width="0.6" paint-order="stroke">ASIA</text>
<text x="571.50" y="259.50" font-size="5.6" fill="#555" text-anchor="middle" textLength="20.00" lengthAdjust="spacingAndGlyphs" stroke="#f0f0f0" stroke-width="0.6" paint-order="stroke">AFRICA</text>
<text x="663.50" y="281.50" font-size="5.6" fill="#4f74a8" text-anchor="middle" textLength="30.00" lengthAdjust="spacingAndGlyphs">AUSTRALIA</text>
<text x="427.00" y="237.00" font-size="6" fill="#8e8e8e" text-anchor="middle" textLength="36.50" lengthAdjust="spacingAndGlyphs">Pacific Ocean</text>
<text x="524.00" y="239.00" font-size="6" fill="#8e8e8e" text-anchor="middle" textLength="38.00" lengthAdjust="spacingAndGlyphs">Atlantic Ocean</text>
<text x="616.00" y="281.00" font-size="6" fill="#8e8e8e" text-anchor="middle" textLength="35.00" lengthAdjust="spacingAndGlyphs">Indian Ocean</text>
</g>
<rect x="369.5" y="294.6" width="2.1" height="2.1" fill="#f25022"/><rect x="372" y="294.6" width="2.1" height="2.1" fill="#7fba00"/><rect x="369.5" y="297.1" width="2.1" height="2.1" fill="#00a4ef"/><rect x="372" y="297.1" width="2.1" height="2.1" fill="#ffb900"/>
<text x="376.00" y="299.00" font-size="4.8" fill="#777" text-anchor="start" textLength="27.00" lengthAdjust="spacingAndGlyphs">Microsoft Bing</text>
<text x="552.80" y="300.90" font-size="4.8" fill="#222" text-anchor="start" textLength="102.40" lengthAdjust="spacingAndGlyphs" stroke="#222" stroke-width="0.12">© 2025 TomTom, © 2025 Microsoft Corporation,</text>
<text x="657.70" y="300.90" font-size="4.8" fill="#2a5db0" text-anchor="start" textLength="39.50" lengthAdjust="spacingAndGlyphs" stroke="#2a5db0" stroke-width="0.1">© OpenStreetMap</text>
<text x="700.60" y="300.90" font-size="4.8" fill="#2a5db0" text-anchor="start" textLength="13.70" lengthAdjust="spacingAndGlyphs" stroke="#2a5db0" stroke-width="0.1">Terms</text>
<path d="M657.7 301.8H697.2M700.6 301.8H714.3" stroke="#2a5db0" stroke-width="0.4"/>
<circle cx="731.3" cy="197.4" r="2.6" fill="#4491f7"/>
<text x="734.80" y="200.10" font-size="7.4" fill="#666" text-anchor="start" textLength="27.20" lengthAdjust="spacingAndGlyphs">Australia</text>
<circle cx="731.3" cy="211.1" r="2.6" fill="#8b7cf6"/>
<text x="734.80" y="213.83" font-size="7.4" fill="#666" text-anchor="start" textLength="18.00" lengthAdjust="spacingAndGlyphs">China</text>
<circle cx="731.3" cy="224.9" r="2.6" fill="#5546cb"/>
<text x="734.80" y="227.56" font-size="7.4" fill="#666" text-anchor="start" textLength="28.50" lengthAdjust="spacingAndGlyphs">Germany</text>
<circle cx="731.3" cy="238.6" r="2.6" fill="#20c3bf"/>
<text x="734.80" y="241.29" font-size="7.4" fill="#666" text-anchor="start" textLength="13.00" lengthAdjust="spacingAndGlyphs">Italy</text>
<circle cx="731.3" cy="252.3" r="2.6" fill="#8fe6ea"/>
<text x="734.80" y="255.02" font-size="7.4" fill="#666" text-anchor="start" textLength="27.50" lengthAdjust="spacingAndGlyphs">Malaysia</text>
<circle cx="731.3" cy="266.1" r="2.6" fill="#3f8f89"/>
<text x="734.80" y="268.75" font-size="7.4" fill="#666" text-anchor="start" textLength="23.00" lengthAdjust="spacingAndGlyphs">Mexico</text>
<circle cx="731.3" cy="279.8" r="2.6" fill="#f7936a"/>
<text x="734.80" y="282.48" font-size="7.4" fill="#666" text-anchor="start" textLength="41.30" lengthAdjust="spacingAndGlyphs">New Zealand</text>
<circle cx="731.3" cy="293.5" r="2.6" fill="#7b6fd8"/>
<text x="734.80" y="296.21" font-size="7.4" fill="#666" text-anchor="start" textLength="42.10" lengthAdjust="spacingAndGlyphs">United States</text></svg>
<span class="t " style="left:369.70px;top:323.66px;font-size:8px;line-height:9.19px;color:#444;transform:scaleX(0.8245);">issue_id</span>
<span class="t " style="left:400.90px;top:323.66px;font-size:8px;line-height:9.19px;color:#444;transform:scaleX(0.8431);">assignee</span>
<span class="t " style="left:434.10px;top:323.66px;font-size:8px;line-height:9.19px;color:#444;transform:scaleX(0.9047);">description</span>
<span class="t " style="left:697.70px;top:323.66px;font-size:8px;line-height:9.19px;color:#444;transform:scaleX(0.8693);">date_created</span>
<span class="t " style="left:744.60px;top:323.66px;font-size:8px;line-height:9.19px;color:#444;transform:scaleX(0.8867);">progress</span>
<svg width="794" height="552"><path d="M370.8 336L372.7 333.6L374.6 336Z" fill="#222"/><path d="M690.8 446.2H695L692.9 448.5Z" fill="#222"/></svg>
<div class="abs" style="left:367px;top:337.9px;width:408.5px;height:1px;background:#c3d6ea"></div>
<div class="abs" style="left:744.6px;top:339.4px;width:2.8px;height:18.8px;background:#8b7cf6"></div>
<span class="t " style="left:369.70px;top:339.66px;font-size:8px;line-height:9.19px;color:#444;transform:scaleX(0.9300);">ppp-1</span>
<span class="t " style="left:400.90px;top:339.66px;font-size:8px;line-height:9.19px;color:#444;transform:scaleX(0.9000);">UserA</span>
<span class="t " style="left:434.10px;top:339.66px;font-size:8px;line-height:9.19px;color:#444;transform:scaleX(0.9031);">Lorem ipsum dolor sit amet, consectetur adipiscing elit, sed do eiusmod tempor</span>
<span class="t " style="left:434.10px;top:349.26px;font-size:8px;line-height:9.19px;color:#444;transform:scaleX(0.9319);">incididunt</span>
<span class="t " style="left:697.70px;top:339.66px;font-size:8px;line-height:9.19px;color:#444;transform:scaleX(0.9091);">01/01/2025</span>
<span class="t " style="left:759.50px;top:339.66px;font-size:8px;line-height:9.19px;color:#444;transform:scaleX(0.8478);">0.10</span>
<div class="abs" style="left:367px;top:358.8px;width:408.5px;height:29.80000000000001px;background:#ededed"></div>
<div class="abs" style="left:744.6px;top:359.6px;width:14.1px;height:28.4px;background:#8b7cf6"></div>
<span class="t " style="left:369.70px;top:359.86px;font-size:8px;line-height:9.19px;color:#444;transform:scaleX(0.9300);">ppp-10</span>
<span class="t " style="left:400.90px;top:359.86px;font-size:8px;line-height:9.19px;color:#444;transform:scaleX(0.9000);">UserC</span>
<span class="t " style="left:434.10px;top:359.86px;font-size:8px;line-height:9.19px;color:#444;transform:scaleX(0.9031);">Lorem ipsum dolor sit amet, consectetur adipiscing elit, sed do eiusmod tempor</span>
<span class="t " style="left:434.10px;top:369.46px;font-size:8px;line-height:9.19px;color:#444;transform:scaleX(0.8919);">incididunt ut labore et dolore magna aliqua. Ut enim ad minim veniam, quis</span>
<span class="t " style="left:434.10px;top:379.06px;font-size:8px;line-height:9.19px;color:#444;transform:scaleX(0.8984);">nostrud exercitation ullamco laboris nisi ut aliquip ex ea commodo consequat.</span>
<span class="t " style="left:697.70px;top:359.86px;font-size:8px;line-height:9.19px;color:#444;transform:scaleX(0.9091);">03/03/2025</span>
<span class="t " style="left:759.50px;top:359.86px;font-size:8px;line-height:9.19px;color:#444;transform:scaleX(0.8478);">0.50</span>
<div class="abs" style="left:744.6px;top:389.4px;width:28.2px;height:28.4px;background:#8b7cf6"></div>
<span class="t " style="left:369.70px;top:389.66px;font-size:8px;line-height:9.19px;color:#444;transform:scaleX(0.9300);">ppp-11</span>
<span class="t " style="left:400.90px;top:389.66px;font-size:8px;line-height:9.19px;color:#444;transform:scaleX(0.9000);">UserD</span>
<span class="t " style="left:434.10px;top:389.66px;font-size:8px;line-height:9.19px;color:#444;transform:scaleX(0.9031);">Lorem ipsum dolor sit amet, consectetur adipiscing elit, sed do eiusmod tempor</span>
<span class="t " style="left:434.10px;top:399.26px;font-size:8px;line-height:9.19px;color:#444;transform:scaleX(0.8919);">incididunt ut labore et dolore magna aliqua. Ut enim ad minim veniam, quis</span>
<span class="t " style="left:434.10px;top:408.86px;font-size:8px;line-height:9.19px;color:#444;transform:scaleX(0.8984);">nostrud exercitation ullamco laboris nisi ut aliquip ex ea commodo consequat.</span>
<span class="t " style="left:697.70px;top:389.66px;font-size:8px;line-height:9.19px;color:#444;transform:scaleX(0.9091);">04/04/2025</span>
<span class="t " style="left:759.50px;top:389.66px;font-size:8px;line-height:9.19px;color:#444;transform:scaleX(0.8478);">1.00</span>
<div class="abs" style="left:778.3px;top:323.2px;width:3.6px;height:20.5px;border-radius:2px;background:#9b9b9b"></div>
<span class="t " style="left:369.40px;top:435.76px;font-size:8px;line-height:9.19px;color:#444;transform:scaleX(0.8840);">parent_link</span>
<span class="t " style="left:414.60px;top:435.76px;font-size:8px;line-height:9.19px;color:#444;transform:scaleX(0.8650);">assignee</span>
<span class="t " style="left:448.40px;top:435.76px;font-size:8px;line-height:9.19px;color:#444;transform:scaleX(0.9021);">description</span>
<span class="t " style="left:690.00px;top:435.76px;font-size:8px;line-height:9.19px;color:#444;transform:scaleX(0.8736);">date_created</span>
<span class="t " style="left:737.70px;top:435.76px;font-size:8px;line-height:9.19px;color:#444;transform:scaleX(0.8674);">progress</span>
<div class="abs" style="left:367px;top:450.1px;width:401px;height:1px;background:#b7d0ea"></div>
<div class="abs" style="left:410.8px;top:450.5px;width:1px;height:89px;background:#b7d0ea"></div>
<div class="abs" style="left:370.2px;top:453.4px;width:3.6px;height:3.6px;border:0.7px solid #bdbdbd;background:#f6f6f6"></div>
<span class="t " style="left:379.40px;top:451.86px;font-size:8px;line-height:9.19px;color:#222;font-weight:bold;transform:scaleX(0.9415);">ppp-7</span>
<div class="abs" style="left:367px;top:461.9px;width:401px;height:39.900000000000034px;background:#ededed"></div>
<span class="t " style="left:384.90px;top:463.26px;font-size:8px;line-height:9.19px;color:#444;transform:scaleX(0.9300);">ppp-11</span>
<span class="t " style="left:414.60px;top:463.26px;font-size:8px;line-height:9.19px;color:#444;transform:scaleX(0.9000);">UserD</span>
<span class="t " style="left:448.40px;top:463.26px;font-size:8px;line-height:9.19px;color:#444;transform:scaleX(0.8988);">Lorem ipsum dolor sit amet, consectetur adipiscing elit, sed do eiusmod</span>
<span class="t " style="left:448.40px;top:472.81px;font-size:8px;line-height:9.19px;color:#444;transform:scaleX(0.9138);">tempor incididunt ut labore et dolore magna aliqua. Ut enim ad minim</span>
<span class="t " style="left:448.40px;top:482.36px;font-size:8px;line-height:9.19px;color:#444;transform:scaleX(0.9205);">veniam, quis nostrud exercitation ullamco laboris nisi ut aliquip ex ea</span>
<span class="t " style="left:448.40px;top:491.91px;font-size:8px;line-height:9.19px;color:#444;transform:scaleX(0.8825);">commodo consequat.</span>
<span class="t " style="left:690.00px;top:463.26px;font-size:8px;line-height:9.19px;color:#444;transform:scaleX(0.9041);">04/04/2025</span>
<span class="t " style="left:752.10px;top:463.26px;font-size:8px;line-height:9.19px;color:#444;transform:scaleX(0.8478);">1.00</span>
<span class="t " style="left:384.90px;top:503.16px;font-size:8px;line-height:9.19px;color:#444;transform:scaleX(0.9300);">ppp-9</span>
<span class="t " style="left:414.60px;top:503.16px;font-size:8px;line-height:9.19px;color:#444;transform:scaleX(0.9000);">UserC</span>
<span class="t " style="left:448.40px;top:503.16px;font-size:8px;line-height:9.19px;color:#444;transform:scaleX(0.8988);">Lorem ipsum dolor sit amet, consectetur adipiscing elit, sed do eiusmod</span>
<span class="t " style="left:448.40px;top:512.71px;font-size:8px;line-height:9.19px;color:#444;transform:scaleX(0.9138);">tempor incididunt ut labore et dolore magna aliqua. Ut enim ad minim</span>
<span class="t " style="left:448.40px;top:522.26px;font-size:8px;line-height:9.19px;color:#444;transform:scaleX(0.9205);">veniam, quis nostrud exercitation ullamco laboris nisi ut aliquip ex ea</span>
<span class="t " style="left:448.40px;top:531.81px;font-size:8px;line-height:9.19px;color:#444;transform:scaleX(0.8825);">commodo consequat.</span>
<span class="t " style="left:690.00px;top:503.16px;font-size:8px;line-height:9.19px;color:#444;transform:scaleX(0.9041);">03/03/2025</span>
<span class="t " style="left:752.10px;top:503.16px;font-size:8px;line-height:9.19px;color:#444;transform:scaleX(0.8478);">0.00</span>
<div class="abs" style="left:410.8px;top:450.5px;width:1px;height:89px;background:#b7d0ea"></div>
<div class="abs" style="left:778.3px;top:436px;width:3.6px;height:41.5px;border-radius:2px;background:#9b9b9b"></div>
</div></body></html>
